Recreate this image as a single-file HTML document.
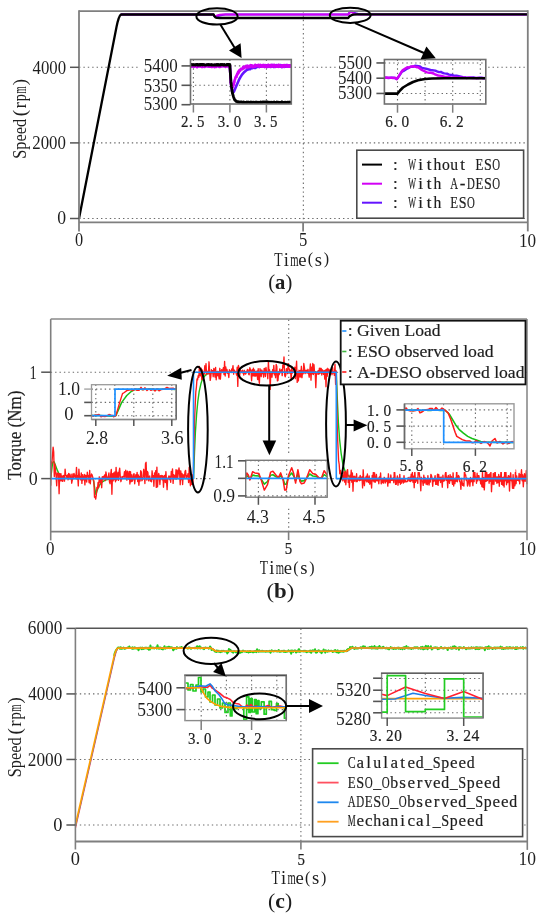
<!DOCTYPE html>
<html><head><meta charset="utf-8"><title>Speed and torque responses</title>
<style>html,body{margin:0;padding:0;background:#fff;}svg{display:block;}text.b{stroke:#1e1e1e;stroke-width:0.2px;}</style></head>
<body>
<svg width="550" height="918" viewBox="0 0 550 918">
<rect x="0" y="0" width="550" height="918" fill="#fff"/>
<line x1="79" y1="67.3" x2="527.8" y2="67.3" stroke="#6a6a6a" stroke-width="1.1" stroke-dasharray="1.4 3"/>
<line x1="79" y1="142.9" x2="527.8" y2="142.9" stroke="#6a6a6a" stroke-width="1.1" stroke-dasharray="1.4 3"/>
<line x1="79" y1="218.5" x2="527.8" y2="218.5" stroke="#6a6a6a" stroke-width="1.1" stroke-dasharray="1.4 3"/>
<line x1="303.35" y1="11" x2="303.35" y2="222" stroke="#6a6a6a" stroke-width="1.1" stroke-dasharray="1.4 3"/>
<polyline points="120.7,14.8 121.6,14.4 213.6,14.4 214.5,16.4 215,16.8 215.6,16.9 219.7,15.6 222.1,15 225.5,14.6 230.4,14.5 348.2,14.4 349.8,12 350.5,11.5 351.1,11.4 352,11.5 355.4,13.1 357.6,13.8 360.6,14.2 364.6,14.3 527.7,14.4" fill="none" stroke="#6414ff" stroke-width="2" stroke-linejoin="round"/>
<polyline points="120.7,14.8 121.6,14.4 213.6,14.4 214.3,16.1 215,16.4 217.9,15.3 219.7,14.8 222.4,14.5 226.2,14.4 348,14.4 348.2,14.7 348.9,13.9 350,11.9 350.7,11.5 351.4,11.7 353.2,13.2 354.5,13.9 356.1,14.2 358.5,14.4 527.7,14.4" fill="none" stroke="#d200f5" stroke-width="2" stroke-linejoin="round"/>
<polyline points="79,218.5 116.5,27 117.6,22.1 118.7,18.4 119.8,15.9 120.5,15 121.2,14.5 213.6,14.4 214.3,16 215.4,17.3 217,17.9 219.7,18 348.2,18 349.6,16.3 351.4,15.2 353.6,14.6 357.2,14.4 527.7,14.4" fill="none" stroke="#000" stroke-width="2.3" stroke-linejoin="round"/>
<line x1="79" y1="11.1" x2="527.8" y2="11.1" stroke="#7f7f7f" stroke-width="1.8"/>
<line x1="79" y1="222.4" x2="527.8" y2="222.4" stroke="#7f7f7f" stroke-width="1.8"/>
<line x1="79" y1="10.2" x2="79" y2="231.4" stroke="#7f7f7f" stroke-width="1.8"/>
<line x1="527.8" y1="10.2" x2="527.8" y2="231.4" stroke="#7f7f7f" stroke-width="1.8"/>
<line x1="303.1" y1="222.4" x2="303.1" y2="231.6" stroke="#7f7f7f" stroke-width="1.8"/>
<line x1="70" y1="218.5" x2="79" y2="218.5" stroke="#555" stroke-width="1.5"/>
<line x1="70" y1="142.9" x2="79" y2="142.9" stroke="#555" stroke-width="1.5"/>
<line x1="70" y1="67.3" x2="79" y2="67.3" stroke="#555" stroke-width="1.5"/>
<rect x="140" y="56" width="152.5" height="73" fill="#fff" stroke="#fff" stroke-width="0"/>
<rect x="190.5" y="59.5" width="100.8" height="44.5" fill="#fff" stroke="#fff" stroke-width="0"/>
<clipPath id="cal"><rect x="190.5" y="59.5" width="100.8" height="44.5"/></clipPath>
<line x1="193.4" y1="59.5" x2="193.4" y2="104" stroke="#6a6a6a" stroke-width="1.1" stroke-dasharray="1.4 3"/>
<line x1="229.9" y1="59.5" x2="229.9" y2="104" stroke="#6a6a6a" stroke-width="1.1" stroke-dasharray="1.4 3"/>
<line x1="266.4" y1="59.5" x2="266.4" y2="104" stroke="#6a6a6a" stroke-width="1.1" stroke-dasharray="1.4 3"/>
<line x1="190.5" y1="85.3" x2="291.3" y2="85.3" stroke="#6a6a6a" stroke-width="1.1" stroke-dasharray="1.4 3"/>
<line x1="190.5" y1="65.9" x2="291.3" y2="65.9" stroke="#6a6a6a" stroke-width="1.1" stroke-dasharray="1.4 3"/>
<g clip-path="url(#cal)">
<polyline points="189.8,65.9 229.8,65.9 231.2,85.9 232.1,90.8 232.4,91.6 233,92.2 233.6,92 234.4,90.6 238.8,80.2 240.3,77.4 242,74.6 244.4,71.9 246.7,70 248.2,69.2 248.4,69.5 248.7,68.8 249,69 249.3,68.4 249.6,68.2 249.9,69.2 250.2,69.2 250.5,67.5 250.8,68.5 251.1,68.5 251.4,66.9 251.7,67.8 251.9,67 252.2,67.6 252.5,67.2 252.8,68.1 253.4,66.6 253.7,67.2 254,66.7 254.3,66.8 254.6,67.9 254.9,66.5 255.7,67.8 256,66.1 256.3,66.8 256.9,66 257.2,66.2 257.5,65.8 257.8,66.8 258.1,66 258.4,66.6 258.7,65.7 259,65.7 259.2,67.2 259.8,66.9 260.1,65.5 260.4,66.5 260.7,66.1 261,66.7 261.3,66.3 261.9,66.5 262.2,66.1 262.5,66.1 262.8,65.4 263,65.8 263.3,65.4 263.6,65.5 263.9,65.2 264.5,66.8 264.8,65.4 265.1,65.2 265.4,65.3 265.7,66 266,65.7 266.3,66.6 266.5,65.4 267.4,66.9 267.7,65.4 268,65.1 268.3,66.8 268.6,65.4 269.2,66.7 269.5,66.4 269.8,65.5 270.1,65.3 270.3,66.9 270.6,65.8 270.9,66.9 271.2,65.6 271.5,66.3 271.8,65.2 272.1,65 272.4,66 272.7,65 273,66.3 273.3,66.8 273.6,65.8 273.8,66.9 274.7,65.7 275,66.6 275.3,66.8 275.6,65.2 275.9,66.3 276.2,65 276.5,65.2 276.8,66.2 277.6,65.6 278.2,65.8 278.5,65.7 278.8,65.1 279.1,65.9 279.4,66.1 279.7,65.5 280,66.4 280.3,66.3 280.6,65 280.9,65.9 281.1,65.8 281.4,66.9 282,65.8 282.3,66.8 282.6,65.7 282.9,65.7 283.2,66.8 283.5,65.7 283.8,66 284.1,65.6 284.4,66.2 284.6,65.5 284.9,65.4 285.2,66.8 285.5,66.8 286.1,65 286.4,66.4 287,65.7 287.3,66.3 287.9,66.3 288.2,66.2 288.4,65.7 288.7,66.3 289,66.1 289.3,65.4 289.6,66.8 289.9,65.8 290.2,65.4 290.5,66.3 290.8,66.4 291.1,65.3 291.4,66.4 291.7,66.5 292.2,65.5 292.5,66.7 292.8,66.2 293.1,66.2 293.4,65.3 293.7,66 294,65.2 294.3,66.5 294.6,66.2" fill="none" stroke="#6414ff" stroke-width="2.6" stroke-linejoin="round"/>
<polyline points="189.8,65.6 190,65 190.3,66 190.9,66.8 191.2,65.8 191.5,66.6 191.8,65.2 192.1,65.1 192.4,66.6 192.7,66.4 193,65.2 193.3,65.6 193.5,65.2 194.1,66.8 194.4,66.4 194.7,65.2 195,66.4 195.6,66.1 196.2,66.1 196.5,64.9 196.8,66.7 197.1,67.1 197.3,64.9 197.6,65 197.9,64.8 198.2,66.1 198.5,64.9 198.8,64.9 199.1,66.5 199.4,65.3 199.7,65.1 200.6,66.4 200.8,66.3 201.4,66.9 201.7,65.7 202,66.4 202.3,65.2 202.6,67 202.9,65 203.2,65.4 203.5,64.9 204.1,65 204.6,67 204.9,65.3 205.2,66.7 205.5,66.4 205.8,65.5 206.4,66.1 206.7,64.9 207.3,66.3 207.6,66.5 207.9,65.1 208.1,66 208.4,65.2 208.7,66.2 209,66.6 209.6,65.2 209.9,66.7 210.2,65.2 210.5,64.9 210.8,65.2 211.1,65.1 211.4,67 211.7,65.6 211.9,65.1 212.2,66.9 212.5,66.4 212.8,66.4 213.1,65.8 213.4,66.1 213.7,66 214,65.3 214.3,67.1 214.9,66.8 215.4,66.9 215.7,64.8 216,65.1 216.3,66.9 216.6,65.9 216.9,66.3 217.2,66.3 217.5,66.2 217.8,65.6 218.1,65.7 218.7,66.6 219,66.3 219.2,66.8 219.5,65.8 219.8,65.4 220.4,66.9 221.6,65.2 221.9,66.2 222.2,65.2 222.7,66.1 223,66.2 223.6,65.4 223.9,66.1 224.2,65.4 224.8,66.5 225.4,65.4 225.7,66.9 226,66.1 226.3,66.1 226.5,65 226.8,64.9 227.1,66.2 227.4,65 227.7,65.2 228,66.5 228.3,66 228.6,66.8 228.9,65.2 229.2,65.5 229.5,65 229.8,65.2 230.9,83.8 231.2,84.6 231.5,87.2 231.8,87.5 232.1,86.2 232.4,87.7 233,86.6 233.3,84.1 233.6,84.9 233.8,84.4 234.1,81.6 234.4,82.4 234.7,79.9 235,79.4 235.6,77.1 235.9,77.2 236.2,76 236.5,77.1 236.8,74.7 237.1,74.7 237.3,73.6 237.6,74.5 238.2,71.5 238.5,73.1 239.4,70.1 239.7,71.2 240.3,70.5 240.9,68.8 241.1,69.4 242.3,68.5 242.6,69.1 243.2,66.8 243.5,67.9 243.8,67 244.1,68.3 244.4,66.9 244.6,66.7 245.5,67 246.1,65.9 246.4,67.6 246.7,67.7 247,66.1 247.3,65.6 247.6,66.5 247.9,66.6 248.2,66 248.4,67.2 248.7,66.9 249,67.1 249.3,66.1 249.6,66.7 249.9,66.9 250.5,65.2 250.8,66.7 251.1,65.7 251.4,66.4 251.7,65.3 252.2,66.6 252.5,66.7 252.8,67.2 253.1,66.1 253.7,66.8 254,66.4 254.3,66.4 254.6,65.4 254.9,66.8 255.2,64.9 255.5,66 255.7,65.8 256,66.1 256.3,65.2 256.6,65.2 256.9,65.8 257.2,66 257.8,65.1 258.1,66.2 258.7,64.9 259.2,66.6 259.5,66.6 259.8,65.4 260.1,65.5 260.4,64.9 260.7,65.1 261,66.5 261.3,66.6 261.6,66.5 261.9,66.6 262.2,65.4 262.8,65 263,66.5 263.3,65.1 263.6,66.3 264.2,65.4 264.5,66.9 264.8,66.9 265.1,65.1 265.4,66.4 266.3,65.5 266.5,67.1 266.8,66.3 267.1,66.1 267.4,65.9 267.7,66.6 268.3,64.8 268.6,66.2 268.9,65.8 269.2,66.8 269.8,65.5 270.1,66.8 270.3,65 270.6,65 270.9,66.8 271.2,64.9 271.5,66.2 271.8,65.3 272.1,65.3 272.4,66.4 272.7,65.5 273,65.5 273.3,65.2 273.6,66.4 274.1,64.8 274.7,65.8 275,66.8 275.3,65.9 275.6,66.2 275.9,65.4 276.5,65.7 276.8,66.6 277.1,65.6 277.4,65.6 277.6,66.6 277.9,65 278.5,66.8 278.8,64.9 279.1,66.7 279.7,65.4 280.3,65.8 280.6,65.6 281.7,66.9 282,65.4 282.3,65.3 282.6,65.8 282.9,65.3 283.2,66.2 283.5,66.4 283.8,66.2 284.1,65 284.4,67 284.6,65.9 284.9,66.5 285.2,65.3 285.5,66.2 285.8,66.3 286.4,65.8 286.7,65.3 287,66.2 287.3,65.1 287.6,66.8 287.9,66.4 288.2,66.8 288.4,66.8 288.7,65.3 289,65.4 289.3,66.6 289.6,66.6 290.2,65.3 290.5,65.2 290.8,65.3 291.1,65.7 291.4,66.7 291.7,66.1 292,66.6 292.2,65.8 292.5,65.7 292.8,66.6 293.1,66.5 293.4,65.2 293.7,67 294,65.2 294.6,64.9" fill="none" stroke="#d200f5" stroke-width="2.6" stroke-linejoin="round"/>
<polyline points="189.8,64.8 190.6,64.6 190.9,64.4 191.5,64.9 191.8,64.5 192.1,64.7 192.7,64.6 193,65.1 193.3,64.5 194.7,65 195,64.7 195.3,65.1 195.6,64.7 195.9,64.6 196.2,64.8 196.8,64.4 197.1,64.4 197.3,65 197.6,64.5 198.2,65.1 198.5,64.8 199.1,65.1 199.7,64.4 200,64.9 200.3,64.4 200.8,65 201.1,64.5 201.4,64.7 201.7,64.4 202.3,64.5 202.6,64.9 203.2,64.4 203.8,64.8 204.1,64.5 204.9,65.1 205.8,65 206.4,64.6 207,64.8 207.3,64.6 207.6,64.9 208.1,64.5 208.7,65 209,64.4 209.6,64.8 210.5,64.7 211.1,65.1 211.7,64.5 211.9,65 212.2,64.8 212.5,65 213.1,65 213.4,64.8 214,65.1 214.6,65 214.9,64.7 215.2,65.1 215.4,65.1 215.7,64.8 216,64.8 216.3,64.6 216.6,65.1 216.9,64.8 217.2,64.8 217.5,65.1 217.8,64.4 218.1,65 218.4,65.1 218.7,64.8 219,65 219.2,64.6 220.1,65.1 220.4,64.6 220.7,64.9 221,64.5 221.3,64.8 221.6,64.4 221.9,64.9 222.5,64.9 222.7,64.5 223.6,65.1 224.2,64.4 224.8,65.1 226.3,65.1 226.8,64.4 227.1,65 227.4,64.4 227.7,64.8 228,64.5 228.6,64.4 228.9,65.1 229.8,64.4 230.9,81.2 231.5,86.9 232.4,93 233.6,97.2 234.7,99.9 235,99.9 235.9,101.2 236.2,101 237.6,102.1 237.9,101.7 238.2,102.3 238.8,101.9 239.1,102 239.4,102.5 239.7,102.4 240,102 240.3,102.1 240.9,102 241.1,102.3 241.4,102 242.6,102.7 243.2,102 243.5,102.7 243.8,102.3 244.1,102.7 244.4,102.7 244.6,102.2 245.2,102.7 245.8,102.3 246.1,102.3 246.4,102.7 246.7,102.6 247,102 247.3,102.6 247.6,102.3 247.9,102.4 248.2,102.2 248.4,102.3 248.7,102.1 249.3,102.6 249.9,102.7 250.2,102.1 250.5,102.7 250.8,102.7 251.1,102 251.4,102.6 251.7,102.1 251.9,102.7 252.2,102.4 252.5,102.6 252.8,102.1 253.1,102.3 254,102.1 254.3,102.5 254.6,102.3 255.2,102.7 255.5,102.1 255.7,102.3 256,102.1 256.3,102.6 257.2,102.2 257.5,102.7 258.1,102.4 258.4,102.7 259,102.2 259.2,102.4 259.8,102.3 260.1,102.6 260.4,102.5 260.7,102 261,102.5 261.3,102.4 261.6,102.7 262.2,102.6 262.5,102 262.8,102.2 263.3,102 263.6,102.3 263.9,102 264.5,102.4 264.8,102 265.4,102 265.7,102.4 266,102.2 266.3,102.4 266.5,102 266.8,102 267.1,102.5 267.4,102 267.7,102.6 268,102.7 268.3,102.2 268.6,102.5 269.2,102.3 269.5,102.7 269.8,102.2 270.1,102.5 270.6,102.5 270.9,102.2 271.2,102.2 271.8,102.7 272.4,102.4 272.7,102.7 273,102.6 273.3,102.2 274.1,102 275,102.6 275.9,102.4 276.5,102.5 276.8,102.1 277.1,102.5 277.6,102.1 278.5,102.6 278.8,102.1 279.1,102.8 279.7,102.3 280.6,102.7 281.1,102.2 281.4,102.4 281.7,102 282,102.2 282.3,102 282.6,102.7 282.9,102.6 283.2,102.7 283.5,102.4 284.1,102.7 284.4,102.3 284.6,102.7 285.2,102.6 285.5,102.1 286.4,102.7 287.6,102.1 288.4,102.7 288.7,102.2 289.3,102.4 289.6,102.1 290.8,102.7 291.4,102.1 291.7,102.1 292,102.4 292.5,102 293.4,102.4 293.7,102.4 294,102.6 294.3,102.6 294.6,102.2" fill="none" stroke="#000" stroke-width="2.8" stroke-linejoin="round"/>
</g>
<rect x="190.5" y="59.5" width="100.8" height="44.5" fill="none" stroke="#6f6f6f" stroke-width="1.6"/>
<line x1="181.5" y1="65.9" x2="190.5" y2="65.9" stroke="#555" stroke-width="1.6"/>
<line x1="181.5" y1="85.3" x2="190.5" y2="85.3" stroke="#555" stroke-width="1.6"/>
<line x1="181.5" y1="104.7" x2="190.5" y2="104.7" stroke="#555" stroke-width="1.6"/>
<line x1="193.4" y1="104" x2="193.4" y2="112.5" stroke="#7f7f7f" stroke-width="1.5"/>
<line x1="229.9" y1="104" x2="229.9" y2="112.5" stroke="#7f7f7f" stroke-width="1.5"/>
<line x1="266.4" y1="104" x2="266.4" y2="112.5" stroke="#7f7f7f" stroke-width="1.5"/>
<text x="143.71" y="72.2" font-family='"Liberation Serif", "Noto Serif CJK SC", serif' font-size="18.3" fill="#1e1e1e" textLength="33.93" lengthAdjust="spacingAndGlyphs">5400</text>
<text x="143.72" y="91.5" font-family='"Liberation Serif", "Noto Serif CJK SC", serif' font-size="18.3" fill="#1e1e1e" textLength="33.72" lengthAdjust="spacingAndGlyphs">5350</text>
<text x="143.72" y="109.6" font-family='"Liberation Serif", "Noto Serif CJK SC", serif' font-size="18.3" fill="#1e1e1e" textLength="33.72" lengthAdjust="spacingAndGlyphs">5300</text>
<text class="b" transform="translate(0,126.5)" y="0" text-anchor="middle" font-family='"Liberation Serif", "Noto Serif CJK SC", serif' font-size="17" fill="#1e1e1e" xml:space="preserve"><tspan x="184.6" textLength="7.44" lengthAdjust="spacingAndGlyphs">2</tspan><tspan x="190.9">.</tspan><tspan x="200.6" textLength="7.44" lengthAdjust="spacingAndGlyphs">5</tspan></text>
<text class="b" transform="translate(0,126.5)" y="0" text-anchor="middle" font-family='"Liberation Serif", "Noto Serif CJK SC", serif' font-size="17" fill="#1e1e1e" xml:space="preserve"><tspan x="221.4" textLength="7.44" lengthAdjust="spacingAndGlyphs">3</tspan><tspan x="227.7">.</tspan><tspan x="237.4" textLength="7.44" lengthAdjust="spacingAndGlyphs">0</tspan></text>
<text class="b" transform="translate(0,126.5)" y="0" text-anchor="middle" font-family='"Liberation Serif", "Noto Serif CJK SC", serif' font-size="17" fill="#1e1e1e" xml:space="preserve"><tspan x="257.8" textLength="7.44" lengthAdjust="spacingAndGlyphs">3</tspan><tspan x="264.1">.</tspan><tspan x="273.8" textLength="7.44" lengthAdjust="spacingAndGlyphs">5</tspan></text>
<rect x="336" y="55" width="151" height="74" fill="#fff" stroke="#fff" stroke-width="0"/>
<rect x="384.4" y="59.5" width="101.4" height="44.5" fill="#fff" stroke="#fff" stroke-width="0"/>
<clipPath id="car"><rect x="384.4" y="59.5" width="101.4" height="44.5"/></clipPath>
<line x1="397.5" y1="59.5" x2="397.5" y2="104" stroke="#6a6a6a" stroke-width="1.1" stroke-dasharray="1.4 3"/>
<line x1="425.1" y1="59.5" x2="425.1" y2="104" stroke="#6a6a6a" stroke-width="1.1" stroke-dasharray="1.4 3"/>
<line x1="452.7" y1="59.5" x2="452.7" y2="104" stroke="#6a6a6a" stroke-width="1.1" stroke-dasharray="1.4 3"/>
<line x1="480.3" y1="59.5" x2="480.3" y2="104" stroke="#6a6a6a" stroke-width="1.1" stroke-dasharray="1.4 3"/>
<line x1="384.4" y1="62.95" x2="485.8" y2="62.95" stroke="#6a6a6a" stroke-width="1.1" stroke-dasharray="1.4 3"/>
<line x1="384.4" y1="78.2" x2="485.8" y2="78.2" stroke="#6a6a6a" stroke-width="1.1" stroke-dasharray="1.4 3"/>
<line x1="384.4" y1="93.45" x2="485.8" y2="93.45" stroke="#6a6a6a" stroke-width="1.1" stroke-dasharray="1.4 3"/>
<g clip-path="url(#car)">
<polyline points="384.1,77.6 388.8,78 390.3,77.6 393.4,77.7 396.8,78.8 399,76.2 402,71.7 403.5,71 406.5,68.9 408,68.3 409.8,67.2 411.5,66.6 413.2,66.7 415,65.7 416.7,65.9 420,66.5 422.1,67.9 425.8,68.6 430.5,70 435.3,70.6 437,71.4 438.9,72.1 440.9,71.9 442.8,73 444.3,73.4 447.4,73.8 449,74.6 450.5,74.9 452.1,74.9 453.6,75.6 456.7,75.7 462.9,77.1 465.9,77.5 468.9,77.7 473.5,77.5 475,77.9 478.1,78 479.7,77.6 481.3,77.7 482.9,78.2 486,78" fill="none" stroke="#6414ff" stroke-width="2.4" stroke-linejoin="round"/>
<polyline points="384.1,77.9 386.1,77.5 390,77.9 391.7,77.8 393.3,78.1 395,77.7 396.8,79.3 400.8,72.8 402.6,70.3 405.7,68.2 407.3,67.3 408.9,67.6 410.4,66.7 413.5,66.3 416.6,67.2 418.1,67.3 421.2,69.6 427,72.3 428.7,72.7 430.3,72.6 432,73 433.6,73.5 435.1,74.4 438.2,75.5 441.3,75.9 445.1,77 448.6,76.8 450.3,77.2 456.9,77.4 458.5,77.9 460.2,77.4 461.8,77.8 463.4,77.6 465.1,77.6 466.7,78.1 468.4,77.7 470,77.7 473.2,78.1 474.8,77.9 476.4,78.2 478,77.9 481.2,78.1 482.8,78 484.4,78.1 486,78" fill="none" stroke="#d200f5" stroke-width="2.4" stroke-linejoin="round"/>
<polyline points="384.4,93.6 397.5,93.6 400,90.5 403,87.5 408,84.5 413,82 418,80.3 425,79 432,78.5 445,78.2 486,78.2" fill="none" stroke="#000" stroke-width="2.6" stroke-linejoin="round"/>
</g>
<rect x="384.4" y="59.5" width="101.4" height="44.5" fill="none" stroke="#6f6f6f" stroke-width="1.6"/>
<line x1="376.4" y1="62.95" x2="384.4" y2="62.95" stroke="#555" stroke-width="1.6"/>
<line x1="376.4" y1="78.2" x2="384.4" y2="78.2" stroke="#555" stroke-width="1.6"/>
<line x1="376.4" y1="93.45" x2="384.4" y2="93.45" stroke="#555" stroke-width="1.6"/>
<line x1="397.5" y1="104" x2="397.5" y2="112.7" stroke="#7f7f7f" stroke-width="1.5"/>
<line x1="452.7" y1="104" x2="452.7" y2="112.7" stroke="#7f7f7f" stroke-width="1.5"/>
<text x="338.01" y="68.8" font-family='"Liberation Serif", "Noto Serif CJK SC", serif' font-size="18.3" fill="#1e1e1e" textLength="34.04" lengthAdjust="spacingAndGlyphs">5500</text>
<text x="338.01" y="84.1" font-family='"Liberation Serif", "Noto Serif CJK SC", serif' font-size="18.3" fill="#1e1e1e" textLength="34.04" lengthAdjust="spacingAndGlyphs">5400</text>
<text x="338.01" y="99.4" font-family='"Liberation Serif", "Noto Serif CJK SC", serif' font-size="18.3" fill="#1e1e1e" textLength="34.04" lengthAdjust="spacingAndGlyphs">5300</text>
<text class="b" transform="translate(0,126.5)" y="0" text-anchor="middle" font-family='"Liberation Serif", "Noto Serif CJK SC", serif' font-size="17" fill="#1e1e1e" xml:space="preserve"><tspan x="389" textLength="7.63" lengthAdjust="spacingAndGlyphs">6</tspan><tspan x="395.4">.</tspan><tspan x="405.4" textLength="7.63" lengthAdjust="spacingAndGlyphs">0</tspan></text>
<text class="b" transform="translate(0,126.5)" y="0" text-anchor="middle" font-family='"Liberation Serif", "Noto Serif CJK SC", serif' font-size="17" fill="#1e1e1e" xml:space="preserve"><tspan x="443.5" textLength="7.63" lengthAdjust="spacingAndGlyphs">6</tspan><tspan x="449.9">.</tspan><tspan x="459.9" textLength="7.63" lengthAdjust="spacingAndGlyphs">2</tspan></text>
<ellipse cx="217" cy="16.4" rx="20.6" ry="8.2" fill="none" stroke="#000" stroke-width="2"/>
<ellipse cx="350.2" cy="15.3" rx="20.4" ry="7.6" fill="none" stroke="#000" stroke-width="2"/>
<line x1="220.5" y1="24.8" x2="236" y2="50" stroke="#000" stroke-width="2"/>
<polygon points="229,50.6 240.6,43.2 241.6,58" fill="#000"/>
<line x1="355" y1="23.2" x2="424" y2="53" stroke="#000" stroke-width="2"/>
<polygon points="426.4,46.6 435.8,58.2 420.6,59.2" fill="#000"/>
<rect x="356.8" y="150.2" width="166.8" height="68" fill="#fff" stroke="#4a4a4a" stroke-width="1.6"/>
<line x1="362" y1="164.6" x2="382" y2="164.6" stroke="#000" stroke-width="2"/>
<line x1="362" y1="183.7" x2="382" y2="183.7" stroke="#d200f5" stroke-width="2"/>
<line x1="362" y1="202.7" x2="382" y2="202.7" stroke="#6414ff" stroke-width="2"/>
<text class="b" transform="translate(0,169.6)" y="0" text-anchor="middle" font-family='"Liberation Serif", "Noto Serif CJK SC", serif' font-size="17" fill="#1e1e1e" xml:space="preserve"><tspan x="395.4">:</tspan><tspan x="403.8"> </tspan><tspan x="412.2" textLength="7.81" lengthAdjust="spacingAndGlyphs">W</tspan><tspan x="420.6">i</tspan><tspan x="429">t</tspan><tspan x="437.4" textLength="7.81" lengthAdjust="spacingAndGlyphs">h</tspan><tspan x="445.8" textLength="7.81" lengthAdjust="spacingAndGlyphs">o</tspan><tspan x="454.2" textLength="7.81" lengthAdjust="spacingAndGlyphs">u</tspan><tspan x="462.6">t</tspan><tspan x="471"> </tspan><tspan x="479.4" textLength="7.81" lengthAdjust="spacingAndGlyphs">E</tspan><tspan x="487.8" textLength="7.81" lengthAdjust="spacingAndGlyphs">S</tspan><tspan x="496.2" textLength="7.81" lengthAdjust="spacingAndGlyphs">O</tspan></text>
<text class="b" transform="translate(0,189)" y="0" text-anchor="middle" font-family='"Liberation Serif", "Noto Serif CJK SC", serif' font-size="17" fill="#1e1e1e" xml:space="preserve"><tspan x="395.4">:</tspan><tspan x="403.8"> </tspan><tspan x="412.2" textLength="7.81" lengthAdjust="spacingAndGlyphs">W</tspan><tspan x="420.6">i</tspan><tspan x="429">t</tspan><tspan x="437.4" textLength="7.81" lengthAdjust="spacingAndGlyphs">h</tspan><tspan x="445.8"> </tspan><tspan x="454.2" textLength="7.81" lengthAdjust="spacingAndGlyphs">A</tspan><tspan x="462.6">-</tspan><tspan x="471" textLength="7.81" lengthAdjust="spacingAndGlyphs">D</tspan><tspan x="479.4" textLength="7.81" lengthAdjust="spacingAndGlyphs">E</tspan><tspan x="487.8" textLength="7.81" lengthAdjust="spacingAndGlyphs">S</tspan><tspan x="496.2" textLength="7.81" lengthAdjust="spacingAndGlyphs">O</tspan></text>
<text class="b" transform="translate(0,207.9)" y="0" text-anchor="middle" font-family='"Liberation Serif", "Noto Serif CJK SC", serif' font-size="17" fill="#1e1e1e" xml:space="preserve"><tspan x="395.4">:</tspan><tspan x="403.8"> </tspan><tspan x="412.2" textLength="7.81" lengthAdjust="spacingAndGlyphs">W</tspan><tspan x="420.6">i</tspan><tspan x="429">t</tspan><tspan x="437.4" textLength="7.81" lengthAdjust="spacingAndGlyphs">h</tspan><tspan x="445.8"> </tspan><tspan x="454.2" textLength="7.81" lengthAdjust="spacingAndGlyphs">E</tspan><tspan x="462.6" textLength="7.81" lengthAdjust="spacingAndGlyphs">S</tspan><tspan x="471" textLength="7.81" lengthAdjust="spacingAndGlyphs">O</tspan></text>
<text x="32.57" y="73.5" font-family='"Liberation Serif", "Noto Serif CJK SC", serif' font-size="18.3" fill="#1e1e1e" textLength="33.57" lengthAdjust="spacingAndGlyphs">4000</text>
<text x="32.26" y="149" font-family='"Liberation Serif", "Noto Serif CJK SC", serif' font-size="18.3" fill="#1e1e1e" textLength="33.68" lengthAdjust="spacingAndGlyphs">2000</text>
<text x="57.33" y="224" font-family='"Liberation Serif", "Noto Serif CJK SC", serif' font-size="18.3" fill="#1e1e1e" textLength="8.85" lengthAdjust="spacingAndGlyphs">0</text>
<text x="74.88" y="246" font-family='"Liberation Serif", "Noto Serif CJK SC", serif' font-size="18.3" fill="#1e1e1e" textLength="8.14" lengthAdjust="spacingAndGlyphs">0</text>
<text x="298.93" y="246.3" font-family='"Liberation Serif", "Noto Serif CJK SC", serif' font-size="18.3" fill="#1e1e1e" textLength="8.32" lengthAdjust="spacingAndGlyphs">5</text>
<text x="518.99" y="246.7" font-family='"Liberation Serif", "Noto Serif CJK SC", serif' font-size="18.3" fill="#1e1e1e" textLength="17.16" lengthAdjust="spacingAndGlyphs">10</text>
<text transform="translate(0,265.5)" y="0" text-anchor="middle" font-family='"Liberation Serif", "Noto Serif CJK SC", serif' font-size="18.6" fill="#1e1e1e" xml:space="preserve"><tspan x="278.3" y="0" textLength="8.3" lengthAdjust="spacingAndGlyphs">T</tspan><tspan x="286.3" y="0">i</tspan><tspan x="294.3" y="0" textLength="8.3" lengthAdjust="spacingAndGlyphs">m</tspan><tspan x="302.3" y="0">e</tspan><tspan x="310.3" y="-1.6" font-size="16">(</tspan><tspan x="318.3" y="0">s</tspan><tspan x="326.3" y="-1.6" font-size="16">)</tspan></text>
<text x="268.2" y="289.4" font-family='"Liberation Serif", "Noto Serif CJK SC", serif' font-size="21.5" fill="#1e1e1e" textLength="24.1" lengthAdjust="spacingAndGlyphs">(<tspan font-weight="bold">a</tspan>)</text>
<text transform="translate(25.9,158.8) rotate(-90)" y="0" text-anchor="middle" font-family='"Liberation Serif", "Noto Serif CJK SC", serif' font-size="19.2" fill="#1e1e1e"><tspan x="20" textLength="40" lengthAdjust="spacingAndGlyphs">Speed</tspan><tspan x="45.85">(</tspan><tspan x="53.55">r</tspan><tspan x="61.25" textLength="7.16" lengthAdjust="spacingAndGlyphs">p</tspan><tspan x="68.95" textLength="7.16" lengthAdjust="spacingAndGlyphs">m</tspan><tspan x="76.65">)</tspan></text>
<line x1="50.7" y1="372.2" x2="527" y2="372.2" stroke="#6a6a6a" stroke-width="1.1" stroke-dasharray="1.4 3"/>
<line x1="50.7" y1="478.6" x2="527" y2="478.6" stroke="#6a6a6a" stroke-width="1.1" stroke-dasharray="1.4 3"/>
<line x1="288.7" y1="319.5" x2="288.7" y2="531.5" stroke="#6a6a6a" stroke-width="1.1" stroke-dasharray="1.4 3"/>
<polyline points="50.7,478.6 52.4,464.4 52.8,462.5 53.1,462 53.6,461.6 54,461.9 54.5,462.7 57.4,470.4 59,473.8 60.9,476.2 63.1,477.6 65.7,478.3 69.3,478.5 93.1,478.6 95.9,494.6 96.9,491.2 98.1,488 99.3,485.6 100.7,483.5 102.3,481.9 104,480.8 106.2,479.9 108.8,479.3 113.5,478.8 121.1,478.6 193.5,478.6 194.5,452.2 195.4,432.3 196.6,414.2 197.8,401.6 199.2,391.4 200.9,383.8 201.8,380.9 202.8,378.8 204,376.8 205.4,375.2 207.3,373.9 209.7,373 212.5,372.6 216.8,372.3 310.4,372.2 336.3,372.2 337.3,398.6 338.4,422.7 339.6,439.5 341.1,453.1 342.7,463.1 343.7,467 344.6,469.9 345.8,472.5 347,474.3 348.4,475.8 350.1,476.9 352.2,477.7 354.9,478.2 363.4,478.6 526.7,478.6" fill="none" stroke="#18c018" stroke-width="1.4" stroke-linejoin="round"/>
<polyline points="50.7,485.7 51.3,462.1 51.9,463.2 53.1,447.2 53.7,452 54.3,476.6 54.9,464.2 56.1,476.1 56.7,485.8 57.3,472.9 57.9,474.5 58.5,473.3 59.1,493.7 59.7,473.7 60.3,480.9 60.9,473.6 61.5,480.8 62.1,476.1 62.7,481.4 63.3,475.5 63.9,476.1 64.5,481.1 65.1,469.1 65.7,475.4 66.3,475.4 66.9,478.2 67.5,475 68.1,479.8 68.7,473.4 69.3,474.2 69.9,478.5 70.5,478.7 71.1,474.1 71.7,483.2 72.3,480.2 72.9,474 73.5,477.6 74.1,473.5 74.7,477 75.3,475.1 75.9,478.5 76.5,467.4 77.1,479.1 77.7,475.7 78.3,485.9 78.9,469.1 79.5,477.5 80.1,476.5 80.7,479.9 81.3,473 81.9,483.4 82.5,474.7 83.1,480.1 83.7,478.7 84.3,474.5 84.9,484.9 85.5,475.3 86.1,475.6 86.7,482 87.3,472.2 87.9,476.7 88.5,475.6 89.1,482.6 89.7,470.5 90.3,483.8 90.9,477.5 91.5,474 92.1,474.9 93.9,481.5 94.5,497.2 95.1,496.8 95.7,499.1 96.3,495.2 96.9,487.4 97.5,488.8 98.1,482.4 98.7,487.5 99.3,476.8 99.9,480.9 100.5,482.9 101.1,478.3 101.7,487.7 102.3,476.7 102.9,479.9 103.5,476.3 104.1,478.5 104.7,474.9 105.3,480.6 105.9,471.9 107.1,479.4 107.7,477.1 108.3,477.4 108.9,472.9 109.5,482.1 110.1,483.8 110.7,474.4 111.3,469.4 111.9,494.3 112.5,473.6 113.1,480.9 113.7,473 114.3,479.5 114.9,472 115.5,481.8 116.1,467.4 116.7,480 117.9,472.3 118.5,480.4 119.1,471.8 119.7,468.2 120.3,476.8 120.9,481.7 122.1,476.4 122.7,477.8 123.3,476.5 123.9,476.9 124.5,471.7 125.1,478 125.7,470.2 126.3,472.7 126.9,480.2 127.5,471.2 128.7,479.1 129.3,471.4 129.9,484 130.5,471.6 131.1,481.7 131.7,474.8 132.3,481.2 132.9,479.8 133.5,474.1 134.1,473.8 134.7,483.8 135.3,477.8 135.9,474.7 136.5,478.4 137.1,472.4 137.7,481.5 138.3,474.9 138.9,485.3 139.5,476.4 140.1,481 140.7,470.7 141.3,471.9 141.9,480.8 142.5,479.6 143.1,476.9 143.7,469.3 144.3,474.2 144.9,483.5 145.5,463.5 146.1,462.3 146.7,480 147.3,471.4 147.9,472.5 148.5,480.8 149.1,477.8 149.7,475.9 150.3,481.1 150.9,479.7 151.5,481.7 152.1,470.8 152.7,479 153.3,475.6 153.9,486.3 154.5,473 155.1,478.1 155.7,470.6 156.3,487.4 156.9,467.1 157.5,486.9 158.1,477.4 158.7,473.5 159.3,476.2 159.9,484.5 160.5,475.6 161.1,477.1 161.7,475.4 162.3,479.9 162.9,475.8 163.5,487.2 164.1,476.5 164.7,475.4 165.3,482.5 165.9,471.6 167.1,489.6 167.7,478.1 168.3,478.3 168.9,475.9 169.5,479.6 170.1,476.3 170.7,482.3 171.3,471.4 171.9,477.1 172.5,468.9 173.1,483.4 173.7,474.6 174.3,477.9 174.9,475.5 175.5,478.9 176,469.7 176.6,479 177.2,470.2 177.8,477.3 179,467.9 179.6,473.2 180.2,484.7 180.8,470.8 181.4,479.5 182,473.5 182.6,484.5 183.2,474.6 183.8,476.5 184.4,477.6 185,471.6 185.6,470.4 186.2,478.1 186.8,475.6 187.4,476.8 188,473.7 188.6,482.5 189.2,467.2 189.8,479.1 190.4,485.8 191,479.5 191.6,484.3 192.2,474.8 192.8,484.1 193.4,472.6 194.6,418.5 195.8,392.2 196.4,387.1 197,379 197.6,379.8 198.2,375.6 198.8,377.4 199.4,366.4 200,375.6 200.6,375.8 201.2,368.2 201.8,379.7 202.4,369.9 203,378.6 203.6,371.9 204.2,374.2 204.8,365.8 205.4,372.7 206,363.6 206.6,374.6 207.2,371.7 207.8,371.4 208.4,373.8 209,361.8 210.2,380.4 210.8,376.9 211.4,369.7 212,372.6 212.6,370.6 213.2,376.7 213.8,368.5 214.4,369.3 215,377 215.6,367.5 216.2,379.8 216.8,371.8 217.4,375.7 218,371.3 219.2,378.8 219.8,368.3 220.4,379.1 221,371.5 221.6,369.6 222.2,372.6 223.4,367.6 224,374.5 224.6,361.5 225.2,376 225.8,367 226.4,372.7 227,369.5 227.6,373.2 228.2,372.1 228.8,377.5 229.4,369.7 230,370.9 230.6,371.3 231.2,372.6 231.8,368.9 232.4,370.3 233,365.6 233.6,374.2 234.2,370 234.8,370.9 235.4,372.5 236,372.1 236.6,375.1 237.2,367.2 237.8,386.4 238.4,365.5 239,367.6 239.6,376.2 240.2,370.1 240.8,372.6 241.4,370.9 242,372.8 242.6,370.2 243.8,375.1 244.4,370.3 245,373.2 245.6,374.1 246.2,371.4 246.8,372.7 247.4,369.5 248,369.6 248.6,374 249.2,374.8 249.8,367.7 251,371.2 251.6,380.8 252.2,369.6 252.8,375.8 253.4,368.1 254,376 254.6,370 255.2,376.2 255.8,371.8 256.4,375.8 257,371 257.6,379.5 258.2,368.7 258.8,379 259.4,383.3 260,368.6 260.6,371.5 261.2,376.6 261.8,370 262.4,373.5 263,371.3 263.6,377.1 264.2,368.4 264.8,368.8 265.4,376.5 266,367.5 266.6,372.6 267.2,371.9 267.8,378.7 268.4,361.3 269,372.8 269.6,369.8 270.2,389.4 270.8,372.1 271.4,373.3 272,377.2 272.6,369.7 273.2,373 273.8,365.4 274.4,374.9 275,371.2 275.6,377.7 276.2,364.4 276.8,366.4 277.4,380.9 278,380.5 278.6,372 279.2,374.6 279.8,368.9 280.4,372.7 281,372.1 281.6,369.7 282.2,375.6 282.8,365 283.4,367.5 284,356.9 284.6,375 285.2,376.9 285.8,374.9 286.4,368.7 287,369.6 287.6,373.6 288.2,363.6 288.8,368.3 289.4,369.5 290,373.4 290.6,370.1 291.2,379.6 291.8,367.3 292.4,373 293,371 293.6,371.6 294.2,372.5 294.8,367.1 295.4,378.6 296.6,361.2 297.2,382.4 297.8,371.9 298.4,380.9 299,370.3 299.6,376.9 300.2,370.4 300.8,377 301.4,366.3 302,377.7 302.6,371 303.2,373.8 303.8,363.5 304.4,367.3 305,373.5 305.6,370.5 306.2,372.9 306.8,370.2 307.4,373.1 308,369.3 309.2,377.2 310.4,363.9 311,380.1 311.6,367.2 312.2,373.9 312.8,363.5 313.4,374.5 314,364.7 314.6,373.1 315.2,371.6 315.8,387.6 316.4,373.8 317,374.4 317.6,371.7 318.2,370.6 318.8,374.4 319.4,368.1 320,373.4 320.6,368.3 321.2,368.4 321.8,375 322.4,369.8 323,371.1 323.6,374.4 324.2,370.6 324.8,379.1 325.4,370 326,386.8 326.6,369.2 327.2,376.3 327.8,368.3 328.4,372.6 329,369.5 329.6,375.3 330.2,370.1 330.8,373.1 331.4,371.9 332,374.7 332.6,367.5 333.2,373 333.8,371.8 334.4,375.4 335,364.1 335.6,384.4 336.2,370.8 337.4,434.3 338.6,460.4 339.2,464.5 339.8,473.7 340.4,470.4 341.6,478.2 342.2,475.1 342.8,480.9 343.4,478.8 344,471.9 344.6,482.1 345.2,471.5 345.8,484.8 347,470.8 347.6,469.6 348.2,482.4 348.8,479.4 349.4,487.4 350,475.1 350.6,480.2 351.2,470.2 351.8,482.2 352.4,473 353,491.2 353.6,476.3 354.2,481.4 354.8,476.1 356,481.6 356.6,473.7 357.2,481.7 357.8,479.3 358.4,480.1 359,477.1 359.6,480.7 360.2,475.4 360.8,480.2 362,476.8 362.6,487.9 363.2,469.8 363.8,481.3 364.4,485.6 365,478 365.6,480.7 366.2,476.2 366.8,481.9 367.4,474 368,481.1 368.6,482.6 369.2,476 369.8,484.2 370.4,479.6 371,480.7 371.6,488 372.2,475.5 372.8,480.9 373.4,471.6 374,481.8 374.6,472.8 375.2,482.4 375.8,480.6 376.4,474.5 377,480.8 377.6,480.6 378.2,478.1 378.8,483.7 379.4,477 380,479.7 380.6,473 381.2,483.8 381.8,479.1 382.4,482.7 383,479.3 383.6,483.1 384.2,477.3 384.8,478.7 385.4,482.9 386,478.4 386.6,481.2 387.2,478.5 387.8,486.1 388.4,473.8 389,482.7 389.6,479.5 390.2,482.7 390.8,475 391.4,480.4 392,479.4 392.6,480.2 393.2,477.9 393.8,482.7 394.4,468.4 395.6,484.4 396.2,484.3 396.8,479.1 397.4,476 398,485.2 398.6,478.2 399.2,482.4 399.8,474.4 400.4,484.2 401,479.7 401.6,483.1 402.2,479.1 402.8,479.7 403.4,483 404,475.6 404.6,482.1 405.2,479.8 405.8,481.9 406.4,481.2 407,481.7 407.6,481.3 408.2,477.5 408.8,478.8 409.4,481.2 410,477.1 410.6,481.5 411.2,474.2 411.8,480.5 412.4,472.5 413,482.3 413.6,476.2 414.2,487.7 414.8,470.7 415.4,482.3 416,478.1 416.6,480.9 417.2,478 417.8,483.3 418.4,464.9 419,471.4 420.2,480.1 420.8,490.8 421.4,477.3 422,480.8 422.6,481.2 423.2,485.4 423.8,475.2 424.4,482.8 425,477.5 426.1,484.1 426.7,479.6 427.3,484.7 427.9,475.6 428.5,482.9 429.1,485 429.7,479 430.3,482 430.9,474.4 431.5,475.7 432.1,478.3 432.7,486.3 433.3,478.6 433.9,481.3 434.5,479.2 435.1,475.6 435.7,484.4 436.3,479.7 436.9,484.4 437.5,474.1 438.1,485.4 438.7,474.5 439.3,480.2 439.9,477.5 440.5,482.5 441.1,477 441.7,479.8 442.3,487.2 442.9,475.1 443.5,481.2 444.1,479.2 444.7,480.8 445.3,473.8 445.9,471.4 446.5,480.4 447.1,477.1 447.7,487.8 448.3,475.4 449.5,483.3 450.1,474.6 450.7,480.5 451.3,476.5 452.5,484.4 453.1,472.8 453.7,486 454.3,478.5 454.9,483.6 455.5,478.3 456.1,481.2 456.7,469.8 457.3,481.8 458.5,475.5 459.1,476.6 459.7,481.6 460.3,482.3 460.9,489.3 461.5,478.4 462.7,485.4 463.3,483.6 463.9,486 464.5,469.1 465.1,475.5 465.7,475 466.3,480.5 466.9,478.2 467.5,486 468.1,484.3 468.7,479.5 469.3,479.2 469.9,486.2 470.5,477.4 471.1,481.8 472.3,478.5 472.9,485.6 473.5,471.9 474.1,481.6 474.7,470.5 475.3,478.3 475.9,477.4 476.5,483.3 477.1,473.2 477.7,480.8 478.3,475.6 478.9,475.7 479.5,480.1 480.1,478.8 480.7,483.9 481.3,479.6 481.9,486.6 482.5,472.1 483.1,487.4 483.7,477.6 484.3,489.9 485.5,469.6 486.1,481.4 486.7,472.2 487.3,480.6 487.9,474.8 488.5,474.6 489.1,483.3 489.7,474 490.3,481.2 490.9,471.2 491.5,491.7 492.1,477.9 492.7,484 493.3,473.4 493.9,484.5 495.1,469 495.7,481.1 496.3,476.9 496.9,483.3 497.5,477 498.1,482.5 498.7,474.5 499.3,486.2 499.9,476.4 500.5,481 501.1,467.9 501.7,484.4 502.3,477.5 502.9,485.3 503.5,477.2 504.1,487 504.7,471.1 505.3,480.7 505.9,471.9 506.5,484.7 507.1,477.5 507.7,482.6 508.3,475.6 508.9,476 509.5,491 510.1,477.1 510.7,472.8 511.3,480.7 511.9,479.4 512.5,488.3 513.1,474.6 513.7,488.4 514.3,478.9 514.9,485.8 515.5,469.9 516.1,483.7 516.7,475.9 517.3,480.4 517.9,479.1 518.5,480.9 519.1,473.4 519.7,483.8 520.3,474.7 520.9,477.2 521.5,469.7 522.1,480.8 522.7,474.8 523.3,486.8 523.9,478.7 524.5,473.7 525.1,481.3 525.7,477.8 526.3,470.5 526.9,484.2" fill="none" stroke="#ff1a1a" stroke-width="1.35" stroke-linejoin="round"/>
<polyline points="50.7,478.6 193.5,478.6 193.5,372.2 336.3,372.2 336.3,478.6 526.7,478.6" fill="none" stroke="#1e90ff" stroke-width="1.6" stroke-linejoin="round"/>
<line x1="50.7" y1="319.1" x2="527" y2="319.1" stroke="#8a8a8a" stroke-width="1.5"/>
<line x1="50.7" y1="531.7" x2="527" y2="531.7" stroke="#7f7f7f" stroke-width="1.8"/>
<line x1="50.7" y1="319.1" x2="50.7" y2="540.4" stroke="#7f7f7f" stroke-width="1.6"/>
<line x1="527" y1="319.1" x2="527" y2="540.2" stroke="#8a8a8a" stroke-width="1.6"/>
<line x1="288.6" y1="531.7" x2="288.6" y2="540" stroke="#7f7f7f" stroke-width="1.6"/>
<line x1="41.2" y1="372.2" x2="50.7" y2="372.2" stroke="#555" stroke-width="1.5"/>
<line x1="41.2" y1="478.6" x2="50.7" y2="478.6" stroke="#555" stroke-width="1.5"/>
<rect x="57" y="381" width="129" height="66" fill="#fff" stroke="#fff" stroke-width="0"/>
<rect x="91.5" y="384.7" width="84.7" height="34.8" fill="#fff" stroke="#fff" stroke-width="0"/>
<clipPath id="cbl"><rect x="91.5" y="384.7" width="84.7" height="34.8"/></clipPath>
<line x1="95.8" y1="384.7" x2="95.8" y2="419.5" stroke="#6a6a6a" stroke-width="1.1" stroke-dasharray="1.4 3"/>
<line x1="114.8" y1="384.7" x2="114.8" y2="419.5" stroke="#6a6a6a" stroke-width="1.1" stroke-dasharray="1.4 3"/>
<line x1="133.8" y1="384.7" x2="133.8" y2="419.5" stroke="#6a6a6a" stroke-width="1.1" stroke-dasharray="1.4 3"/>
<line x1="152.8" y1="384.7" x2="152.8" y2="419.5" stroke="#6a6a6a" stroke-width="1.1" stroke-dasharray="1.4 3"/>
<line x1="171.8" y1="384.7" x2="171.8" y2="419.5" stroke="#6a6a6a" stroke-width="1.1" stroke-dasharray="1.4 3"/>
<line x1="91.5" y1="402.4" x2="176.2" y2="402.4" stroke="#6a6a6a" stroke-width="1.1" stroke-dasharray="1.4 3"/>
<line x1="91.5" y1="415.7" x2="176.2" y2="415.7" stroke="#6a6a6a" stroke-width="1.1" stroke-dasharray="1.4 3"/>
<line x1="91.5" y1="389.1" x2="176.2" y2="389.1" stroke="#6a6a6a" stroke-width="1.1" stroke-dasharray="1.4 3"/>
<g clip-path="url(#cbl)">
<polyline points="91.5,415.6 100,415.4 112,416.3 115.9,415.6 121.7,402.4 126.8,395.5 131.2,391.5 134.1,389.8 139,389 142,389.5 151,389.1 154,389.5 157,389.5 169,388.9 175,389.4" fill="none" stroke="#18c018" stroke-width="1.5" stroke-linejoin="round"/>
<polyline points="91,414.6 93,416.3 95,415 97,415 99,414.5 101,416.8 103,416.2 105,416.5 107,415.9 109,414.5 111,415.2 113,415.6 113.5,416.8 115.9,415.6 119.5,403.1 122.5,393.6 124.3,392.5 126.8,390.6 131.2,389.5 133,390.6 135,388.8 137,390.4 139,390.4 141,387.3 143,390 145,387.8 147,390.5 149,388.7 151,390.4 153,388.8 155,391 157,388.8 159,390.8 161,389.6 163,389.3 165,388.7 167,387.4 169,388.4 173,388.2 175,389.1 177,388.5" fill="none" stroke="#ff1a1a" stroke-width="1.4" stroke-linejoin="round"/>
<polyline points="91.5,415.7 115,415.7 115,389.2 176.2,389.2" fill="none" stroke="#1e90ff" stroke-width="1.7" stroke-linejoin="round"/>
</g>
<rect x="91.5" y="384.7" width="84.7" height="34.8" fill="none" stroke="#9a9a9a" stroke-width="1.3"/>
<line x1="176.2" y1="384.7" x2="176.2" y2="419.5" stroke="#666" stroke-width="1.4"/>
<line x1="91.5" y1="419.5" x2="176.2" y2="419.5" stroke="#888" stroke-width="1.4"/>
<line x1="84.2" y1="389.1" x2="91.5" y2="389.1" stroke="#aaa" stroke-width="1.5"/>
<line x1="84.2" y1="402.4" x2="91.5" y2="402.4" stroke="#555" stroke-width="1.6"/>
<line x1="84.2" y1="415.7" x2="91.5" y2="415.7" stroke="#555" stroke-width="1.6"/>
<line x1="95.8" y1="419.5" x2="95.8" y2="426" stroke="#555" stroke-width="1.5"/>
<line x1="133.8" y1="419.5" x2="133.8" y2="426" stroke="#555" stroke-width="1.5"/>
<line x1="171.8" y1="419.5" x2="171.8" y2="426" stroke="#555" stroke-width="1.5"/>
<text x="58.06" y="394.9" font-family='"Liberation Serif", "Noto Serif CJK SC", serif' font-size="18.3" fill="#1e1e1e" textLength="21.91" lengthAdjust="spacingAndGlyphs">1.0</text>
<text x="64.39" y="419.9" font-family='"Liberation Serif", "Noto Serif CJK SC", serif' font-size="18.3" fill="#1e1e1e" textLength="9.32" lengthAdjust="spacingAndGlyphs">0</text>
<text x="86.03" y="444.2" font-family='"Liberation Serif", "Noto Serif CJK SC", serif' font-size="18.3" fill="#1e1e1e" textLength="21.94" lengthAdjust="spacingAndGlyphs">2.8</text>
<text x="160.93" y="444" font-family='"Liberation Serif", "Noto Serif CJK SC", serif' font-size="18.3" fill="#1e1e1e" textLength="22.61" lengthAdjust="spacingAndGlyphs">3.6</text>
<rect x="212" y="453" width="116.5" height="53" fill="#fff" stroke="#fff" stroke-width="0"/>
<rect x="245.7" y="460.3" width="81.5" height="36.9" fill="#fff" stroke="#fff" stroke-width="0"/>
<clipPath id="cbm"><rect x="245.7" y="460.3" width="81.5" height="36.9"/></clipPath>
<line x1="258.4" y1="460.3" x2="258.4" y2="497.2" stroke="#6a6a6a" stroke-width="1.1" stroke-dasharray="1.4 3"/>
<line x1="286.7" y1="460.3" x2="286.7" y2="497.2" stroke="#6a6a6a" stroke-width="1.1" stroke-dasharray="1.4 3"/>
<line x1="315" y1="460.3" x2="315" y2="497.2" stroke="#6a6a6a" stroke-width="1.1" stroke-dasharray="1.4 3"/>
<line x1="245.7" y1="460.8" x2="327.2" y2="460.8" stroke="#6a6a6a" stroke-width="1.1" stroke-dasharray="1.4 3"/>
<line x1="245.7" y1="495.9" x2="327.2" y2="495.9" stroke="#6a6a6a" stroke-width="1.1" stroke-dasharray="1.4 3"/>
<g clip-path="url(#cbm)">
<polyline points="245.6,478.3 246.8,475.6 248.4,476.8 249.9,479.1 252.6,475.1 254.9,475.6 258.9,476 261.2,479.1 264.3,484.2 267.5,481.5 270.6,475.2 272.9,474.8 276.1,476.8 278.4,477.9 280.7,475.6 283.1,479.1 284.7,484.2 286.2,484.2 288.6,476.8 291.7,473 293.7,476 295.6,480.6 297.9,474 300,479.9 301.5,481.1 304.2,480.6 306.5,478.3 309.7,474 312.8,476 315.9,476.4 318.7,477.9 321.4,478.3 324.1,474.6 328,477.1" fill="none" stroke="#18c018" stroke-width="1.6" stroke-linejoin="round"/>
<polyline points="245.6,478.3 246.8,472.9 248.4,475.2 249.9,479.9 252.6,471.8 254.9,472.9 258.9,473.6 261.2,479.9 264.3,490.1 267.5,484.6 270.6,472.1 272.9,471.3 276.1,475.2 278.4,477.5 280.7,472.9 283.1,479.9 284.7,490.1 286.2,490.1 288.6,475.2 291.7,467.7 293.7,473.6 295.6,483 297.9,469.7 300,481.5 301.5,483.8 304.2,483 306.5,478.3 309.7,469.7 312.8,473.6 315.9,474.4 318.7,477.5 321.4,478.3 324.1,470.8 328,476" fill="none" stroke="#ff1a1a" stroke-width="1.5" stroke-linejoin="round"/>
<polyline points="245.7,478.3 327.2,478.3" fill="none" stroke="#1e90ff" stroke-width="1.7" stroke-linejoin="round"/>
</g>
<rect x="245.7" y="460.3" width="81.5" height="36.9" fill="none" stroke="#7a7a7a" stroke-width="1.4"/>
<line x1="238" y1="460.8" x2="245.7" y2="460.8" stroke="#555" stroke-width="1.6"/>
<line x1="238" y1="478.35" x2="245.7" y2="478.35" stroke="#555" stroke-width="1.6"/>
<line x1="238" y1="495.9" x2="245.7" y2="495.9" stroke="#555" stroke-width="1.6"/>
<line x1="258.4" y1="497.2" x2="258.4" y2="504.8" stroke="#555" stroke-width="1.5"/>
<line x1="315" y1="497.2" x2="315" y2="504.8" stroke="#555" stroke-width="1.5"/>
<text x="214.57" y="467.6" font-family='"Liberation Serif", "Noto Serif CJK SC", serif' font-size="18.3" fill="#1e1e1e" textLength="18.94" lengthAdjust="spacingAndGlyphs">1.1</text>
<text x="213.13" y="501.6" font-family='"Liberation Serif", "Noto Serif CJK SC", serif' font-size="18.3" fill="#1e1e1e" textLength="21.99" lengthAdjust="spacingAndGlyphs">0.9</text>
<text x="246.65" y="522.9" font-family='"Liberation Serif", "Noto Serif CJK SC", serif' font-size="18.3" fill="#1e1e1e" textLength="22.14" lengthAdjust="spacingAndGlyphs">4.3</text>
<text x="302.65" y="522.9" font-family='"Liberation Serif", "Noto Serif CJK SC", serif' font-size="18.3" fill="#1e1e1e" textLength="22.66" lengthAdjust="spacingAndGlyphs">4.5</text>
<rect x="364" y="401" width="151.5" height="71" fill="#fff" stroke="#fff" stroke-width="0"/>
<rect x="404.5" y="403.8" width="109.5" height="45" fill="#fff" stroke="#fff" stroke-width="0"/>
<clipPath id="cbr"><rect x="404.5" y="403.8" width="109.5" height="45"/></clipPath>
<line x1="411.8" y1="403.8" x2="411.8" y2="448.8" stroke="#6a6a6a" stroke-width="1.1" stroke-dasharray="1.4 3"/>
<line x1="443.6" y1="403.8" x2="443.6" y2="448.8" stroke="#6a6a6a" stroke-width="1.1" stroke-dasharray="1.4 3"/>
<line x1="475.4" y1="403.8" x2="475.4" y2="448.8" stroke="#6a6a6a" stroke-width="1.1" stroke-dasharray="1.4 3"/>
<line x1="507.2" y1="403.8" x2="507.2" y2="448.8" stroke="#6a6a6a" stroke-width="1.1" stroke-dasharray="1.4 3"/>
<line x1="404.5" y1="409.9" x2="514" y2="409.9" stroke="#6a6a6a" stroke-width="1.1" stroke-dasharray="1.4 3"/>
<line x1="404.5" y1="426.1" x2="514" y2="426.1" stroke="#6a6a6a" stroke-width="1.1" stroke-dasharray="1.4 3"/>
<line x1="404.5" y1="442.3" x2="514" y2="442.3" stroke="#6a6a6a" stroke-width="1.1" stroke-dasharray="1.4 3"/>
<g clip-path="url(#cbr)">
<polyline points="404,410.3 410,409.9 413,410.7 416,409.8 422,410.7 425,409.9 428,410.4 431,410.4 434,409.8 440,410.5 443,410.3 445.4,410.5 449.2,414 455.7,424.9 459,429.3 463.4,433.1 467.7,436.4 472.1,438.5 480.8,441.5 486,442.2 514,442.4" fill="none" stroke="#18c018" stroke-width="1.6" stroke-linejoin="round"/>
<polyline points="404,410.1 406,407.9 408,410.3 410,410.9 412,410.4 414,410.7 416,410.4 418,408.5 420,412.9 422,412 424,410.4 426,409.8 428,409.6 430,408.5 432,408.4 434,410.3 436,407.5 438,409.8 440,410 442,408.1 445.4,410.5 448.1,412.9 450.8,419.5 455.2,432.5 456.8,436.4 462.3,439.6 465.5,440.7 470,441 472,442.8 474,442.5 476,440.8 478,441.5 481,443.5 484,441.5 487,442.5 489,444.5 490,446 492,441 495,438.5 497,443 500,441.5 503,444 506,442 509,443.5 512,441.5 515,442.5" fill="none" stroke="#ff1a1a" stroke-width="1.5" stroke-linejoin="round"/>
<polyline points="404.5,410.2 443.7,410.2 443.7,442.4 514,442.4" fill="none" stroke="#1e90ff" stroke-width="1.7" stroke-linejoin="round"/>
</g>
<rect x="404.5" y="403.8" width="109.5" height="45" fill="none" stroke="#9a9a9a" stroke-width="1.4"/>
<line x1="404.5" y1="403.8" x2="404.5" y2="448.8" stroke="#6a6a6a" stroke-width="1.6"/>
<line x1="396.4" y1="409.9" x2="404.5" y2="409.9" stroke="#555" stroke-width="1.6"/>
<line x1="396.4" y1="426.1" x2="404.5" y2="426.1" stroke="#555" stroke-width="1.6"/>
<line x1="396.4" y1="442.3" x2="404.5" y2="442.3" stroke="#555" stroke-width="1.6"/>
<line x1="411.8" y1="448.8" x2="411.8" y2="455.9" stroke="#555" stroke-width="1.5"/>
<line x1="475.4" y1="448.8" x2="475.4" y2="455.9" stroke="#555" stroke-width="1.5"/>
<text class="b" transform="translate(0,415.8)" y="0" text-anchor="middle" font-family='"Liberation Serif", "Noto Serif CJK SC", serif' font-size="17" fill="#1e1e1e" xml:space="preserve"><tspan x="370.8" textLength="7.63" lengthAdjust="spacingAndGlyphs">1</tspan><tspan x="377.2">.</tspan><tspan x="387.2" textLength="7.63" lengthAdjust="spacingAndGlyphs">0</tspan></text>
<text class="b" transform="translate(0,432.2)" y="0" text-anchor="middle" font-family='"Liberation Serif", "Noto Serif CJK SC", serif' font-size="17" fill="#1e1e1e" xml:space="preserve"><tspan x="370.8" textLength="7.63" lengthAdjust="spacingAndGlyphs">0</tspan><tspan x="377.2">.</tspan><tspan x="387.2" textLength="7.63" lengthAdjust="spacingAndGlyphs">5</tspan></text>
<text class="b" transform="translate(0,448.2)" y="0" text-anchor="middle" font-family='"Liberation Serif", "Noto Serif CJK SC", serif' font-size="17" fill="#1e1e1e" xml:space="preserve"><tspan x="370.8" textLength="7.63" lengthAdjust="spacingAndGlyphs">0</tspan><tspan x="377.2">.</tspan><tspan x="387.2" textLength="7.63" lengthAdjust="spacingAndGlyphs">0</tspan></text>
<text class="b" transform="translate(0,471.4)" y="0" text-anchor="middle" font-family='"Liberation Serif", "Noto Serif CJK SC", serif' font-size="17" fill="#1e1e1e" xml:space="preserve"><tspan x="403.4" textLength="7.44" lengthAdjust="spacingAndGlyphs">5</tspan><tspan x="409.7">.</tspan><tspan x="419.4" textLength="7.44" lengthAdjust="spacingAndGlyphs">8</tspan></text>
<text class="b" transform="translate(0,471.6)" y="0" text-anchor="middle" font-family='"Liberation Serif", "Noto Serif CJK SC", serif' font-size="17" fill="#1e1e1e" xml:space="preserve"><tspan x="466.55" textLength="7.72" lengthAdjust="spacingAndGlyphs">6</tspan><tspan x="473">.</tspan><tspan x="483.15" textLength="7.72" lengthAdjust="spacingAndGlyphs">2</tspan></text>
<ellipse cx="197.9" cy="429.6" rx="9.8" ry="62.8" fill="none" stroke="#000" stroke-width="2"/>
<ellipse cx="266.8" cy="373.2" rx="28.6" ry="12.3" fill="none" stroke="#000" stroke-width="2"/>
<ellipse cx="336" cy="424" rx="9.9" ry="62.5" fill="none" stroke="#000" stroke-width="2"/>
<line x1="191.5" y1="370" x2="177" y2="373.8" stroke="#000" stroke-width="2"/>
<polygon points="167.2,375.8 181.2,367.8 181.8,379.8" fill="#000"/>
<line x1="269.2" y1="385.5" x2="269.2" y2="444" stroke="#000" stroke-width="2"/>
<polygon points="262.6,440.6 276.2,440.6 269.4,455.2" fill="#000"/>
<line x1="346" y1="425" x2="356" y2="425" stroke="#000" stroke-width="2"/>
<polygon points="353.6,419.4 367.4,425.2 353.6,431.4" fill="#000"/>
<rect x="340.7" y="320.7" width="184.8" height="63.7" fill="#fff" stroke="#111" stroke-width="1.8"/>
<line x1="342.2" y1="331" x2="346.4" y2="331" stroke="#1e90ff" stroke-width="1.6"/>
<line x1="342.2" y1="351.5" x2="346.4" y2="351.5" stroke="#40b840" stroke-width="1.6"/>
<line x1="342.2" y1="372" x2="346.4" y2="372" stroke="#ff1a1a" stroke-width="1.6"/>
<text x="347.8" y="336.2" font-family='"Liberation Serif", "Noto Serif CJK SC", serif' font-size="17.6" fill="#1e1e1e" class="b">:</text>
<text x="347.8" y="356.8" font-family='"Liberation Serif", "Noto Serif CJK SC", serif' font-size="17.6" fill="#1e1e1e" class="b">:</text>
<text x="347.8" y="377.6" font-family='"Liberation Serif", "Noto Serif CJK SC", serif' font-size="17.6" fill="#1e1e1e" class="b">:</text>
<text x="357.1" y="336.2" font-family='"Liberation Serif", "Noto Serif CJK SC", serif' font-size="17.6" fill="#1e1e1e" textLength="83.4" lengthAdjust="spacingAndGlyphs" class="b">Given Load</text>
<text x="357.1" y="356.8" font-family='"Liberation Serif", "Noto Serif CJK SC", serif' font-size="17.6" fill="#1e1e1e" textLength="136.5" lengthAdjust="spacingAndGlyphs" class="b">ESO observed load</text>
<text x="357.1" y="377.6" font-family='"Liberation Serif", "Noto Serif CJK SC", serif' font-size="17.6" fill="#1e1e1e" textLength="167.4" lengthAdjust="spacingAndGlyphs" class="b">A-DESO observed load</text>
<text x="29.43" y="378.5" font-family='"Liberation Serif", "Noto Serif CJK SC", serif' font-size="18.3" fill="#1e1e1e" textLength="7.24" lengthAdjust="spacingAndGlyphs">1</text>
<text x="28.82" y="484.7" font-family='"Liberation Serif", "Noto Serif CJK SC", serif' font-size="18.3" fill="#1e1e1e" textLength="8.97" lengthAdjust="spacingAndGlyphs">0</text>
<text x="46.05" y="554.6" font-family='"Liberation Serif", "Noto Serif CJK SC", serif' font-size="18.3" fill="#1e1e1e" textLength="8.49" lengthAdjust="spacingAndGlyphs">0</text>
<text class="b" transform="translate(0,554.2)" y="0" text-anchor="middle" font-family='"Liberation Serif", "Noto Serif CJK SC", serif' font-size="17" fill="#1e1e1e" xml:space="preserve"><tspan x="288.4" textLength="7.44" lengthAdjust="spacingAndGlyphs">5</tspan></text>
<text x="518.56" y="555" font-family='"Liberation Serif", "Noto Serif CJK SC", serif' font-size="18.3" fill="#1e1e1e" textLength="17.51" lengthAdjust="spacingAndGlyphs">10</text>
<text transform="translate(0,574.2)" y="0" text-anchor="middle" font-family='"Liberation Serif", "Noto Serif CJK SC", serif' font-size="18.6" fill="#1e1e1e" xml:space="preserve"><tspan x="263.8" y="0" textLength="8.3" lengthAdjust="spacingAndGlyphs">T</tspan><tspan x="271.8" y="0">i</tspan><tspan x="279.8" y="0" textLength="8.3" lengthAdjust="spacingAndGlyphs">m</tspan><tspan x="287.8" y="0">e</tspan><tspan x="295.8" y="-1.6" font-size="16">(</tspan><tspan x="303.8" y="0">s</tspan><tspan x="311.8" y="-1.6" font-size="16">)</tspan></text>
<text x="266.4" y="597.6" font-family='"Liberation Serif", "Noto Serif CJK SC", serif' font-size="21.5" fill="#1e1e1e" textLength="27.9" lengthAdjust="spacingAndGlyphs">(<tspan font-weight="bold">b</tspan>)</text>
<g transform="translate(20.9,479.8) rotate(-90)">
<text x="0" y="0" font-family='"Liberation Serif", "Noto Serif CJK SC", serif' font-size="18" fill="#1e1e1e" textLength="89.2" lengthAdjust="spacingAndGlyphs" class="b">Torque (Nm)</text>
</g>
<line x1="75.4" y1="693.92" x2="527.3" y2="693.92" stroke="#6a6a6a" stroke-width="1.1" stroke-dasharray="1.4 3"/>
<line x1="75.4" y1="759.46" x2="527.3" y2="759.46" stroke="#6a6a6a" stroke-width="1.1" stroke-dasharray="1.4 3"/>
<line x1="75.4" y1="825" x2="527.3" y2="825" stroke="#6a6a6a" stroke-width="1.1" stroke-dasharray="1.4 3"/>
<line x1="300.9" y1="628.5" x2="300.9" y2="841.5" stroke="#6a6a6a" stroke-width="1.1" stroke-dasharray="1.4 3"/>
<polyline points="114.2,656 114.7,653.3 115.8,650.6 118,647.6 118.5,647.6 119.1,648 119.6,647.7 120.1,648.9 120.7,647.2 121.2,648.3 121.8,648.9 122.3,648 122.8,648.4 123.4,647.6 123.9,647.7 124.5,648.8 125,648.8 125.6,648.3 126.1,648.3 126.6,647.9 127.2,648.1 127.7,647.5 128.8,647.6 129.3,646.5 129.9,647.6 131,648.1 131.5,647.7 132,648.6 132.6,647.3 133.1,648.8 133.7,647.8 134.2,648.4 134.8,647.4 135.3,648.2 135.8,648.5 136.4,648.5 136.9,648.1 137.5,648.5 138,648.1 138.5,650.2 139.1,647.7 139.6,648.7 140.7,647.6 141.8,649.1 142.3,647.6 142.9,647.9 143.4,648.9 144,648.2 144.5,647.9 145,648.5 145.6,647.7 146.1,647.6 146.7,648.4 147.2,647.9 147.7,648.7 148.3,647.7 148.8,649.8 149.4,648 149.9,649.5 150.4,645.6 151,647.9 151.5,647.9 152.1,648.3 152.6,647.4 153.7,647.7 154.2,648.5 154.8,647.9 155.3,647.8 155.9,648 156.4,647.2 156.9,648.6 157.5,645.3 158,647.4 159.1,648.8 159.6,647.6 160.2,648.3 160.7,647.5 161.3,648.9 161.8,648.9 162.4,648.2 162.9,649.5 163.4,648.1 164,647.4 164.5,646.2 165.1,648.7 165.6,647.7 166.1,648.3 166.7,647.2 167.2,647.5 167.8,648.1 168.3,646.8 168.8,648 169.4,646.8 169.9,648.1 170.5,647.5 171,647.3 171.6,647.7 172.1,647.5 172.6,648 173.2,650.3 173.7,649.6 174.3,648 174.8,648.6 175.3,648 175.9,648.1 176.4,648.8 177,647.1 177.5,647.9 179.1,648.1 179.7,647.5 180.2,648.1 180.8,648.1 181.3,647 181.8,647.7 182.4,647.6 183.5,648.2 184,647.8 184.5,648.1 185.1,647.8 186.2,647.8 187.2,648.2 187.8,648.6 188.3,648.3 188.9,647.2 190,648.2 190.5,647.9 191,648.8 192.1,647.9 192.7,648.1 193.2,647.9 193.7,647.9 194.3,648.2 194.8,647.7 195.4,647.7 195.9,648.2 196.4,647.8 197,646.3 197.5,648.6 198.1,646.6 198.6,647.5 199.2,647.9 199.7,646.2 200.2,648.5 200.8,647.4 202.4,648.3 202.9,648.4 203.5,647.9 204,649.1 205.1,647.5 206.2,647.7 206.7,648.1 207.3,648.1 207.8,647.8 208.9,648.7 209.4,648 210,646.5 210.5,647.3 211.1,647.7 211.6,650 212.1,648.8 213.8,649.9 214.8,651.4 215.4,651.7 215.9,651.1 216.5,651.9 217,650.4 217.6,651.6 218.1,651.5 218.6,650.7 219.2,651.8 219.7,651.7 220.3,652.1 221.3,650.8 221.9,651.7 223,650.8 224,651.2 224.6,651.2 225.1,651.6 226.8,651.4 227.3,653.4 227.8,651.4 228.4,652 228.9,648.9 229.5,650.4 230,650.8 230.5,649.9 231.1,651.3 231.6,651.1 232.2,652.1 232.7,651.7 233.2,652.6 233.8,651.3 234.3,651.3 234.9,651.4 235.4,651.7 236,652.5 236.5,651.6 237.6,651.4 238.1,651.5 238.7,653.2 239.2,651.4 240.3,652.8 240.8,651.5 241.4,651.5 241.9,652.2 243,650.6 244.1,651.6 245.2,651.3 246.8,652.1 247.9,651.2 248.4,652.5 248.9,651.9 249.5,652 250,651 250.6,652 251.1,651.7 252.2,651.8 252.7,652.2 253.3,651.7 253.8,652.1 254.4,651.2 255.4,651.8 256,650.7 256.5,652.1 257.1,649.3 257.6,650.8 258.1,651.1 258.7,651.8 259.2,650.3 259.8,651.5 260.3,651.2 261.4,651.6 261.9,650.7 262.5,651.5 263,650.9 263.6,651.5 265.2,651.3 265.7,651.7 266.3,651.1 266.8,650.9 267.3,651.6 269,651.3 269.5,650.9 270.6,652.7 271.7,650.2 272.2,651 272.8,650.9 273.3,651.5 273.8,651 274.4,651.2 274.9,650.8 276,651.2 276.5,650.9 277.1,651.4 277.6,651.4 278.2,651.1 278.7,650 279.3,651.8 279.8,651.2 280.3,651.8 280.9,651.2 281.4,651.4 282,650.9 282.5,651.3 283,651.3 283.6,651.8 284.1,650.6 284.7,651.5 285.2,652 285.7,651.3 286.3,651.7 286.8,651.7 287.4,651.5 287.9,651.2 288.5,650.4 289,651.3 289.5,651.4 290.6,650.7 291.2,653.7 291.7,650.5 292.2,651.5 292.8,650.5 293.3,651.9 293.9,651.1 294.4,650.9 294.9,650.3 295.5,650.6 296,652.5 296.6,652.2 297.1,651.1 297.7,650.5 298.2,651.6 298.7,649.2 299.3,649.5 299.8,651.9 300.9,651 302,651.3 303.1,650.8 303.6,651.4 304.1,650.8 304.7,651 305.2,651.7 305.8,650.8 306.3,651.2 306.9,652.2 307.4,651.5 308.5,651.5 309,651.3 309.6,651.8 310.1,650.5 310.6,651.3 311.2,652.8 311.7,650.7 312.3,651.2 312.8,650.2 313.3,651.3 314.4,651.1 315,649.3 315.5,651.7 316.1,652.6 316.6,651.1 317.1,652.3 317.7,650.7 318.2,650.9 318.8,650.2 319.8,651.7 320.9,651.4 321.5,653.1 322,651.6 322.5,651.8 323.1,651.2 323.6,649.4 324.2,650.7 324.7,650.9 325.3,652.6 325.8,650.2 326.3,651.1 326.9,650.9 327.4,651.6 328.5,650.4 329,651.4 329.6,651.1 331.7,650.8 332.8,652 333.9,651.3 334.5,650.4 335,651.4 335.5,650.1 336.1,651.8 336.6,652.2 337.7,650.4 338.2,652.8 338.8,652.4 339.3,651.4 339.9,652.1 340.4,651.2 340.9,650.8 341.5,651.4 342,651.7 342.6,651.6 343.1,650.8 343.7,651.7 344.2,650.7 344.7,651.2 345.3,650.9 345.8,651.2 346.4,651.2 346.9,649.9 347.4,650.9 348,649.1 348.5,650.1 349.1,648.9 349.6,649.2 350.1,646.9 350.7,647.9 351.2,648.4 351.8,648.1 352.3,646.7 352.9,647.5 354.5,648.9 355.6,647.4 356.1,648.6 356.6,648.6 357.2,648.3 358.3,648.4 359.9,647.9 360.4,647.5 361,647.3 361.5,648.6 362.1,647.6 362.6,647.2 363.1,646.2 363.7,647.8 364.2,647.8 364.8,646.5 365.8,648.1 366.4,647.9 366.9,648.1 367.5,647.7 368.6,647.8 369.1,648.1 369.6,646.9 370.2,646.9 371.3,648.4 371.8,646.4 372.3,648.4 372.9,648.1 373.4,647.3 374,648.3 374.5,646.1 375,648.4 375.6,648.4 376.1,647.2 376.7,648.2 377.2,648.8 377.8,647.2 378.3,648.3 378.8,648.1 379.4,646 380.5,648.2 381,647.6 382.1,648.3 382.6,647.2 383.2,646.7 383.7,647.9 384.2,647.5 384.8,648.1 385.3,648.3 385.9,648.4 386.4,647.7 387,648 387.5,648.8 388.6,648.2 389.1,649.4 389.7,648.2 390.2,648.1 390.7,647.1 391.8,648.4 392.4,647.8 392.9,648.2 393.4,649 394,648.8 394.5,647.8 395.1,648.5 395.6,648.8 396.2,648.7 397.2,647.8 397.8,648.3 398.3,647.5 398.9,648.7 399.4,647.9 400.5,648.9 401.6,648 402.1,648.1 402.6,649.3 403.2,647.5 403.7,648.2 404.3,647.1 404.8,648.9 405.4,647.6 405.9,647.2 406.4,646.1 407,647.6 407.5,648.3 408.1,648.2 408.6,647.3 409.1,648.5 409.7,648.1 410.2,648.1 411.3,649 412.4,648 413.5,648.5 414,647.5 414.6,647.5 415.1,647.2 415.6,648.1 416.2,647.4 416.7,647.8 417.3,647.3 417.8,647.4 418.3,648.6 418.9,648 419.4,648 420.5,648.8 421,647 422.1,648.6 422.7,646.9 423.2,649.4 423.8,648.1 424.3,647.6 424.8,648.9 425.4,646.7 425.9,645.8 426.5,648.4 427,647.9 427.5,649.2 428.1,646.1 428.6,648.2 429.7,647.5 430.2,647.8 430.8,646.3 431.3,648.5 431.9,649.4 432.4,648.2 433,648.4 433.5,647.7 434.6,647.8 435.1,647.3 435.7,647.4 436.7,648.1 437.3,647.6 437.8,649.2 438.4,648.5 438.9,648.8 439.4,648.6 441.1,647 441.6,647.8 442.2,648.2 443.8,648.4 444.9,647.6 445.4,648 447,647.9 447.6,650.1 448.1,648.4 448.6,647.7 450.3,648.4 450.8,647.4 451.9,648.8 452.4,648.5 453,646.5 453.5,648.3 454.1,648.2 454.6,646.3 455.1,648.1 455.7,647 456.2,648.9 456.8,647.9 457.8,648 458.4,647.5 458.9,649.8 459.5,647.2 460,647.2 460.6,647.8 461.1,647.5 462.2,648.3 462.7,648.3 463.8,647.1 464.3,647.8 464.9,647.9 466,649.2 466.5,648.2 467,647.9 467.6,648.4 468.1,648.5 468.7,647.6 469.2,648.5 469.8,648.3 470.3,648.5 470.8,648.1 471.4,647.2 471.9,648.3 472.5,648.3 473.5,647.5 474.1,648.1 474.6,647.8 475.7,649.1 476.2,647.1 477.3,649 477.9,647.4 478.4,647.6 479,649.1 479.5,648.7 480,647.2 480.6,648.2 481.1,648.3 481.7,647.6 482.2,647.6 482.7,648.2 483.3,648 483.8,648.3 484.4,648.1 484.9,650.2 485.4,647.2 486,647.8 487.1,647.1 487.6,648.9 488.2,648.3 488.7,646.2 489.2,648.7 490.9,647.4 492.5,648.9 493,648.8 493.6,647.7 494.1,648.2 494.6,647.4 495.2,647.5 495.7,648.8 496.3,647.9 496.8,647.6 497.4,647.6 497.9,648.3 498.4,647.7 499,647.6 499.5,648.2 500.1,647.7 500.6,646.6 501.7,648.7 502.2,647.3 502.8,647.9 503.3,649 504.4,648 504.9,648.7 505.5,647.7 506,648.5 506.6,647.2 507.1,647.4 507.6,648.4 508.2,647.6 508.7,648.5 509.8,647.1 510.3,648.3 510.9,647.6 512,648.5 512.5,647.6 513.1,647.4 515.2,648.9 515.8,647.3 516.3,649.1 517.4,647.4 517.9,648.4 519,648.3 519.5,647.9 520.1,648.2 520.6,647.2 521.2,648.1 522.3,648.3 522.8,647 523.3,648.8 523.9,648 524.4,647.9 525,648 525.5,647.6 526,648.6 526.6,648.7" fill="none" stroke="#22cc22" stroke-width="2" stroke-linejoin="round"/>
<polyline points="75.4,828.9 114.6,657.9 116.4,651.6 117.8,648.9 118.7,648.1 211.6,648 217,651.3 346.9,651.3 352.3,648 526.4,648" fill="none" stroke="#ff4050" stroke-width="1" stroke-linejoin="round"/>
<polyline points="75.4,827 114.2,657.9 115.1,654.3 116.4,650.5 117.3,648.9 118.2,648.1 211.2,648 216.6,651.3 346.5,651.3 351.9,648 526.4,648" fill="none" stroke="#2288ee" stroke-width="1" stroke-linejoin="round"/>
<polyline points="75.4,825 113.7,657.9 114.6,654.3 116,650.5 116.9,648.9 117.8,648.1 210.7,648 216.1,651.3 346,651.3 351.4,648 526.4,648" fill="none" stroke="#ffa000" stroke-width="1.6" stroke-linejoin="round"/>
<line x1="75.4" y1="628.2" x2="527.3" y2="628.2" stroke="#555" stroke-width="1.5"/>
<line x1="75.4" y1="841.5" x2="527.3" y2="841.5" stroke="#7f7f7f" stroke-width="1.8"/>
<line x1="75.4" y1="628.2" x2="75.4" y2="849.5" stroke="#7f7f7f" stroke-width="1.6"/>
<line x1="527.3" y1="628.2" x2="527.3" y2="849.9" stroke="#7f7f7f" stroke-width="1.6"/>
<line x1="300.9" y1="841.5" x2="300.9" y2="849.6" stroke="#7f7f7f" stroke-width="1.6"/>
<line x1="66.4" y1="628.38" x2="75.4" y2="628.38" stroke="#555" stroke-width="1.5"/>
<line x1="66.4" y1="693.92" x2="75.4" y2="693.92" stroke="#555" stroke-width="1.5"/>
<line x1="66.4" y1="759.46" x2="75.4" y2="759.46" stroke="#555" stroke-width="1.5"/>
<line x1="66.4" y1="825" x2="75.4" y2="825" stroke="#555" stroke-width="1.5"/>
<rect x="135" y="673" width="152.5" height="73" fill="#fff" stroke="#fff" stroke-width="0"/>
<rect x="184.9" y="675.4" width="101.4" height="45.2" fill="#fff" stroke="#fff" stroke-width="0"/>
<clipPath id="cc1"><rect x="184.9" y="675.4" width="101.4" height="45.2"/></clipPath>
<line x1="201.2" y1="675.4" x2="201.2" y2="720.6" stroke="#6a6a6a" stroke-width="1.1" stroke-dasharray="1.4 3"/>
<line x1="226.4" y1="675.4" x2="226.4" y2="720.6" stroke="#6a6a6a" stroke-width="1.1" stroke-dasharray="1.4 3"/>
<line x1="251.6" y1="675.4" x2="251.6" y2="720.6" stroke="#6a6a6a" stroke-width="1.1" stroke-dasharray="1.4 3"/>
<line x1="276.8" y1="675.4" x2="276.8" y2="720.6" stroke="#6a6a6a" stroke-width="1.1" stroke-dasharray="1.4 3"/>
<line x1="184.9" y1="687.8" x2="286.3" y2="687.8" stroke="#6a6a6a" stroke-width="1.1" stroke-dasharray="1.4 3"/>
<line x1="184.9" y1="709.6" x2="286.3" y2="709.6" stroke="#6a6a6a" stroke-width="1.1" stroke-dasharray="1.4 3"/>
<g clip-path="url(#cc1)">
<polyline points="185,683 188,683 188,690 190.5,690 190.5,684.5 193,684.5 193,691 196,691 196,685 198.5,685 198.5,677.5 201,677.5 201,692 203,692 203,689 205.5,689 205.5,697 208,697 208,692 210,692 210,702 212.5,702 212.5,695 215,695 215,705 217.5,705 217.5,699 220,699 220,708 222.5,708 222.5,703 225,703 225,712.5 228,712.5 228,703 230.3,703 230.3,716 232,716 232,707 234.8,707 234.8,708.6 237,708.6 237,707 243.8,707 243.8,719.3 246.6,719.3 246.6,696.8 248.9,696.8 248.9,712.5 250.5,712.5 250.5,698.5 252.2,698.5 252.2,712 254.5,712 254.5,699.6 256.2,699.6 256.2,713.7 257.9,713.7 257.9,700.7 259,700.7 259,708.6 261.3,708.6 261.3,701.8 264.1,701.8 264.1,714.2 266.3,714.2 266.3,707 269.1,707 269.1,701.3 271.4,701.3 271.4,709.7 274.2,709.7 274.2,710.3 276.5,710.3 276.5,703.5 278.2,703.5 278.2,707 284.4,707 284.4,718.2 287,718.2" fill="none" stroke="#22cc22" stroke-width="1.7" stroke-linejoin="round"/>
<polyline points="184.9,689 195,687.5 200.1,686.5 203.8,687.2 207.6,687.2 210,685.3 212.4,688.2 219.9,693.4 223.7,696.7 227.5,698.1 230.3,699.5 233.1,702.4 236,703.5 239,704 242,706.5 245,707.5 247,705 249,707.5 251,704.5 253,707 256,706 260,707.5 264,707 268,705.5 272,707.5 276,706.5 280,706 286.3,707.5" fill="none" stroke="#ff2030" stroke-width="1.6" stroke-linejoin="round"/>
<polyline points="184.9,688.5 189.7,687.2 195.3,687.2 200.1,685.8 205.7,686.3 210,683.9 212.4,686.3 215.2,691 219,694.8 221.8,698.6 224.6,703.3 227.5,704.7 232.2,705.2 240,706.5 250,707.2 260,706.6 270,707.2 286.3,706.9" fill="none" stroke="#1e7fe8" stroke-width="1.6" stroke-linejoin="round"/>
<polyline points="184.9,687.7 201,687.7 203.4,692.9 206.7,698.1 210.5,701.4 215.2,704.2 219.9,706.1 226.5,707.1 231.3,707.6 250,707.9 270,707.7 286.3,707.8" fill="none" stroke="#ffa000" stroke-width="1.6" stroke-linejoin="round"/>
</g>
<rect x="184.9" y="675.4" width="101.4" height="45.2" fill="none" stroke="#8a8a8a" stroke-width="1.4"/>
<line x1="184.2" y1="675.4" x2="287" y2="675.4" stroke="#505050" stroke-width="1.6"/>
<line x1="184.9" y1="675.4" x2="184.9" y2="720.6" stroke="#a8a8a8" stroke-width="1.5"/>
<line x1="286.3" y1="675.4" x2="286.3" y2="720.6" stroke="#707070" stroke-width="1.5"/>
<line x1="176.4" y1="687.8" x2="184.9" y2="687.8" stroke="#555" stroke-width="1.6"/>
<line x1="176.4" y1="709.6" x2="184.9" y2="709.6" stroke="#555" stroke-width="1.6"/>
<line x1="201.2" y1="720.6" x2="201.2" y2="730" stroke="#7f7f7f" stroke-width="1.5"/>
<line x1="251.6" y1="720.6" x2="251.6" y2="730" stroke="#7f7f7f" stroke-width="1.5"/>
<text x="137.18" y="694.5" font-family='"Liberation Serif", "Noto Serif CJK SC", serif' font-size="18.3" fill="#1e1e1e" textLength="34.98" lengthAdjust="spacingAndGlyphs">5400</text>
<text x="137.18" y="715.8" font-family='"Liberation Serif", "Noto Serif CJK SC", serif' font-size="18.3" fill="#1e1e1e" textLength="34.98" lengthAdjust="spacingAndGlyphs">5300</text>
<text class="b" transform="translate(0,743.6)" y="0" text-anchor="middle" font-family='"Liberation Serif", "Noto Serif CJK SC", serif' font-size="17" fill="#1e1e1e" xml:space="preserve"><tspan x="191.6" textLength="7.44" lengthAdjust="spacingAndGlyphs">3</tspan><tspan x="197.9">.</tspan><tspan x="207.6" textLength="7.44" lengthAdjust="spacingAndGlyphs">0</tspan></text>
<text class="b" transform="translate(0,743.6)" y="0" text-anchor="middle" font-family='"Liberation Serif", "Noto Serif CJK SC", serif' font-size="17" fill="#1e1e1e" xml:space="preserve"><tspan x="242" textLength="7.44" lengthAdjust="spacingAndGlyphs">3</tspan><tspan x="248.3">.</tspan><tspan x="258" textLength="7.44" lengthAdjust="spacingAndGlyphs">2</tspan></text>
<rect x="333" y="670" width="151.5" height="74" fill="#fff" stroke="#fff" stroke-width="0"/>
<rect x="381.6" y="673.3" width="101.5" height="44.8" fill="#fff" stroke="#fff" stroke-width="0"/>
<clipPath id="cc2"><rect x="381.6" y="673.3" width="101.5" height="44.8"/></clipPath>
<line x1="387.2" y1="673.3" x2="387.2" y2="718.1" stroke="#6a6a6a" stroke-width="1.1" stroke-dasharray="1.4 3"/>
<line x1="425.3" y1="673.3" x2="425.3" y2="718.1" stroke="#6a6a6a" stroke-width="1.1" stroke-dasharray="1.4 3"/>
<line x1="463.7" y1="673.3" x2="463.7" y2="718.1" stroke="#6a6a6a" stroke-width="1.1" stroke-dasharray="1.4 3"/>
<line x1="381.6" y1="678.5" x2="483.1" y2="678.5" stroke="#6a6a6a" stroke-width="1.1" stroke-dasharray="1.4 3"/>
<line x1="381.6" y1="690.2" x2="483.1" y2="690.2" stroke="#6a6a6a" stroke-width="1.1" stroke-dasharray="1.4 3"/>
<line x1="381.6" y1="701.3" x2="483.1" y2="701.3" stroke="#6a6a6a" stroke-width="1.1" stroke-dasharray="1.4 3"/>
<line x1="381.6" y1="712.8" x2="483.1" y2="712.8" stroke="#6a6a6a" stroke-width="1.1" stroke-dasharray="1.4 3"/>
<g clip-path="url(#cc2)">
<polyline points="381.6,698.6 483.1,698.6" fill="none" stroke="#ffa000" stroke-width="1.6" stroke-linejoin="round"/>
<polyline points="381.6,699.2 395,699 413,693.2 425.3,695.5 444.5,698.2 463.7,697.4 483.1,698.2" fill="none" stroke="#1e7fe8" stroke-width="1.6" stroke-linejoin="round"/>
<polyline points="381.6,694.3 387.2,695.6 405.6,687 425.3,693.4 444.5,698.4 463.7,691.5 483.1,699.6" fill="none" stroke="#ff2030" stroke-width="1.6" stroke-linejoin="round"/>
<polyline points="381.6,712.2 387.2,712.2 387.2,675.6 405.6,675.6 405.6,711.6 425.3,711.6 425.3,709.4 444.5,709.4 444.5,678.8 463.7,678.8 463.7,717 483.1,717" fill="none" stroke="#22cc22" stroke-width="1.7" stroke-linejoin="round"/>
</g>
<rect x="381.6" y="673.3" width="101.5" height="44.8" fill="none" stroke="#8a8a8a" stroke-width="1.4"/>
<line x1="381" y1="673.3" x2="483.8" y2="673.3" stroke="#606060" stroke-width="1.5"/>
<line x1="483.1" y1="673.3" x2="483.1" y2="718.1" stroke="#707070" stroke-width="1.5"/>
<line x1="373.1" y1="678.2" x2="381.6" y2="678.2" stroke="#555" stroke-width="1.6"/>
<line x1="373.1" y1="690.2" x2="381.6" y2="690.2" stroke="#555" stroke-width="1.6"/>
<line x1="373.1" y1="701.4" x2="381.6" y2="701.4" stroke="#555" stroke-width="1.6"/>
<line x1="373.1" y1="712.8" x2="381.6" y2="712.8" stroke="#555" stroke-width="1.6"/>
<line x1="387.2" y1="718.1" x2="387.2" y2="726" stroke="#555" stroke-width="1.5"/>
<line x1="463.7" y1="718.1" x2="463.7" y2="726" stroke="#555" stroke-width="1.5"/>
<text x="336.08" y="696.2" font-family='"Liberation Serif", "Noto Serif CJK SC", serif' font-size="18.3" fill="#1e1e1e" textLength="34.98" lengthAdjust="spacingAndGlyphs">5320</text>
<text x="336.08" y="724.5" font-family='"Liberation Serif", "Noto Serif CJK SC", serif' font-size="18.3" fill="#1e1e1e" textLength="34.98" lengthAdjust="spacingAndGlyphs">5280</text>
<text class="b" transform="translate(0,741.4)" y="0" text-anchor="middle" font-family='"Liberation Serif", "Noto Serif CJK SC", serif' font-size="17" fill="#1e1e1e" xml:space="preserve"><tspan x="373.5" textLength="7.63" lengthAdjust="spacingAndGlyphs">3</tspan><tspan x="379.9">.</tspan><tspan x="389.9" textLength="7.63" lengthAdjust="spacingAndGlyphs">2</tspan><tspan x="398.1" textLength="7.63" lengthAdjust="spacingAndGlyphs">0</tspan></text>
<text class="b" transform="translate(0,741.4)" y="0" text-anchor="middle" font-family='"Liberation Serif", "Noto Serif CJK SC", serif' font-size="17" fill="#1e1e1e" xml:space="preserve"><tspan x="450.3" textLength="7.81" lengthAdjust="spacingAndGlyphs">3</tspan><tspan x="456.8">.</tspan><tspan x="467.1" textLength="7.81" lengthAdjust="spacingAndGlyphs">2</tspan><tspan x="475.5" textLength="7.81" lengthAdjust="spacingAndGlyphs">4</tspan></text>
<ellipse cx="211.1" cy="650.8" rx="27.5" ry="13.1" fill="none" stroke="#000" stroke-width="2"/>
<ellipse cx="259.6" cy="706.3" rx="26.6" ry="12.9" fill="none" stroke="#000" stroke-width="2"/>
<line x1="214" y1="663.2" x2="218" y2="668" stroke="#000" stroke-width="2"/>
<polygon points="213.1,672.1 221.5,663 225.8,676.5" fill="#000"/>
<line x1="286" y1="706" x2="312" y2="706" stroke="#000" stroke-width="2"/>
<polygon points="309,699 323,706 309,713" fill="#000"/>
<rect x="312.6" y="748.8" width="210" height="87.8" fill="#fff" stroke="#4a4a4a" stroke-width="1.6"/>
<line x1="317.4" y1="763.2" x2="338.6" y2="763.2" stroke="#22cc22" stroke-width="1.8"/>
<line x1="317.4" y1="782.6" x2="338.6" y2="782.6" stroke="#ff5060" stroke-width="1.8"/>
<line x1="317.4" y1="802.3" x2="338.6" y2="802.3" stroke="#1e88ee" stroke-width="1.8"/>
<line x1="317.4" y1="821.7" x2="338.6" y2="821.7" stroke="#ffa020" stroke-width="1.8"/>
<text class="b" transform="translate(0,767.7)" y="0" text-anchor="middle" font-family='"Liberation Serif", "Noto Serif CJK SC", serif' font-size="17" fill="#1e1e1e" xml:space="preserve"><tspan x="351.65" textLength="7.91" lengthAdjust="spacingAndGlyphs">C</tspan><tspan x="360.15">a</tspan><tspan x="368.65">l</tspan><tspan x="377.15" textLength="7.91" lengthAdjust="spacingAndGlyphs">u</tspan><tspan x="385.65">l</tspan><tspan x="394.15">a</tspan><tspan x="402.65">t</tspan><tspan x="411.15">e</tspan><tspan x="419.65" textLength="7.91" lengthAdjust="spacingAndGlyphs">d</tspan><tspan x="428.15" textLength="7.91" lengthAdjust="spacingAndGlyphs">_</tspan><tspan x="436.65" textLength="7.91" lengthAdjust="spacingAndGlyphs">S</tspan><tspan x="445.15" textLength="7.91" lengthAdjust="spacingAndGlyphs">p</tspan><tspan x="453.65">e</tspan><tspan x="462.15">e</tspan><tspan x="470.65" textLength="7.91" lengthAdjust="spacingAndGlyphs">d</tspan></text>
<text class="b" transform="translate(0,787.5)" y="0" text-anchor="middle" font-family='"Liberation Serif", "Noto Serif CJK SC", serif' font-size="17" fill="#1e1e1e" xml:space="preserve"><tspan x="351.65" textLength="7.91" lengthAdjust="spacingAndGlyphs">E</tspan><tspan x="360.15" textLength="7.91" lengthAdjust="spacingAndGlyphs">S</tspan><tspan x="368.65" textLength="7.91" lengthAdjust="spacingAndGlyphs">O</tspan><tspan x="377.15" textLength="7.91" lengthAdjust="spacingAndGlyphs">_</tspan><tspan x="385.65" textLength="7.91" lengthAdjust="spacingAndGlyphs">O</tspan><tspan x="394.15" textLength="7.91" lengthAdjust="spacingAndGlyphs">b</tspan><tspan x="402.65">s</tspan><tspan x="411.15">e</tspan><tspan x="419.65">r</tspan><tspan x="428.15" textLength="7.91" lengthAdjust="spacingAndGlyphs">v</tspan><tspan x="436.65">e</tspan><tspan x="445.15" textLength="7.91" lengthAdjust="spacingAndGlyphs">d</tspan><tspan x="453.65" textLength="7.91" lengthAdjust="spacingAndGlyphs">_</tspan><tspan x="462.15" textLength="7.91" lengthAdjust="spacingAndGlyphs">S</tspan><tspan x="470.65" textLength="7.91" lengthAdjust="spacingAndGlyphs">p</tspan><tspan x="479.15">e</tspan><tspan x="487.65">e</tspan><tspan x="496.15" textLength="7.91" lengthAdjust="spacingAndGlyphs">d</tspan></text>
<text class="b" transform="translate(0,806.8)" y="0" text-anchor="middle" font-family='"Liberation Serif", "Noto Serif CJK SC", serif' font-size="17" fill="#1e1e1e" xml:space="preserve"><tspan x="351.65" textLength="7.91" lengthAdjust="spacingAndGlyphs">A</tspan><tspan x="360.15" textLength="7.91" lengthAdjust="spacingAndGlyphs">D</tspan><tspan x="368.65" textLength="7.91" lengthAdjust="spacingAndGlyphs">E</tspan><tspan x="377.15" textLength="7.91" lengthAdjust="spacingAndGlyphs">S</tspan><tspan x="385.65" textLength="7.91" lengthAdjust="spacingAndGlyphs">O</tspan><tspan x="394.15" textLength="7.91" lengthAdjust="spacingAndGlyphs">_</tspan><tspan x="402.65" textLength="7.91" lengthAdjust="spacingAndGlyphs">O</tspan><tspan x="411.15" textLength="7.91" lengthAdjust="spacingAndGlyphs">b</tspan><tspan x="419.65">s</tspan><tspan x="428.15">e</tspan><tspan x="436.65">r</tspan><tspan x="445.15" textLength="7.91" lengthAdjust="spacingAndGlyphs">v</tspan><tspan x="453.65">e</tspan><tspan x="462.15" textLength="7.91" lengthAdjust="spacingAndGlyphs">d</tspan><tspan x="470.65" textLength="7.91" lengthAdjust="spacingAndGlyphs">_</tspan><tspan x="479.15" textLength="7.91" lengthAdjust="spacingAndGlyphs">S</tspan><tspan x="487.65" textLength="7.91" lengthAdjust="spacingAndGlyphs">p</tspan><tspan x="496.15">e</tspan><tspan x="504.65">e</tspan><tspan x="513.15" textLength="7.91" lengthAdjust="spacingAndGlyphs">d</tspan></text>
<text class="b" transform="translate(0,826)" y="0" text-anchor="middle" font-family='"Liberation Serif", "Noto Serif CJK SC", serif' font-size="17" fill="#1e1e1e" xml:space="preserve"><tspan x="351.65" textLength="7.91" lengthAdjust="spacingAndGlyphs">M</tspan><tspan x="360.15">e</tspan><tspan x="368.65">c</tspan><tspan x="377.15" textLength="7.91" lengthAdjust="spacingAndGlyphs">h</tspan><tspan x="385.65">a</tspan><tspan x="394.15" textLength="7.91" lengthAdjust="spacingAndGlyphs">n</tspan><tspan x="402.65">i</tspan><tspan x="411.15">c</tspan><tspan x="419.65">a</tspan><tspan x="428.15">l</tspan><tspan x="436.65" textLength="7.91" lengthAdjust="spacingAndGlyphs">_</tspan><tspan x="445.15" textLength="7.91" lengthAdjust="spacingAndGlyphs">S</tspan><tspan x="453.65" textLength="7.91" lengthAdjust="spacingAndGlyphs">p</tspan><tspan x="462.15">e</tspan><tspan x="470.65">e</tspan><tspan x="479.15" textLength="7.91" lengthAdjust="spacingAndGlyphs">d</tspan></text>
<text x="27.86" y="634.3" font-family='"Liberation Serif", "Noto Serif CJK SC", serif' font-size="18.3" fill="#1e1e1e" textLength="34.5" lengthAdjust="spacingAndGlyphs">6000</text>
<text x="28.27" y="699.7" font-family='"Liberation Serif", "Noto Serif CJK SC", serif' font-size="18.3" fill="#1e1e1e" textLength="34.08" lengthAdjust="spacingAndGlyphs">4000</text>
<text x="27.84" y="765.7" font-family='"Liberation Serif", "Noto Serif CJK SC", serif' font-size="18.3" fill="#1e1e1e" textLength="34.52" lengthAdjust="spacingAndGlyphs">2000</text>
<text x="53.3" y="830.7" font-family='"Liberation Serif", "Noto Serif CJK SC", serif' font-size="18.3" fill="#1e1e1e" textLength="9.2" lengthAdjust="spacingAndGlyphs">0</text>
<text x="70.7" y="864.5" font-family='"Liberation Serif", "Noto Serif CJK SC", serif' font-size="18.3" fill="#1e1e1e" textLength="9.2" lengthAdjust="spacingAndGlyphs">0</text>
<text class="b" transform="translate(0,864.5)" y="0" text-anchor="middle" font-family='"Liberation Serif", "Noto Serif CJK SC", serif' font-size="17" fill="#1e1e1e" xml:space="preserve"><tspan x="301.1" textLength="7.44" lengthAdjust="spacingAndGlyphs">5</tspan></text>
<text x="518.56" y="864.5" font-family='"Liberation Serif", "Noto Serif CJK SC", serif' font-size="18.3" fill="#1e1e1e" textLength="17.51" lengthAdjust="spacingAndGlyphs">10</text>
<text transform="translate(0,884.4)" y="0" text-anchor="middle" font-family='"Liberation Serif", "Noto Serif CJK SC", serif' font-size="18.6" fill="#1e1e1e" xml:space="preserve"><tspan x="275.6" y="0" textLength="8.3" lengthAdjust="spacingAndGlyphs">T</tspan><tspan x="283.6" y="0">i</tspan><tspan x="291.6" y="0" textLength="8.3" lengthAdjust="spacingAndGlyphs">m</tspan><tspan x="299.6" y="0">e</tspan><tspan x="307.6" y="-1.6" font-size="16">(</tspan><tspan x="315.6" y="0">s</tspan><tspan x="323.6" y="-1.6" font-size="16">)</tspan></text>
<text x="268.1" y="907.6" font-family='"Liberation Serif", "Noto Serif CJK SC", serif' font-size="21.5" fill="#1e1e1e" textLength="24.1" lengthAdjust="spacingAndGlyphs">(<tspan font-weight="bold">c</tspan>)</text>
<text transform="translate(21.3,777.3) rotate(-90)" y="0" text-anchor="middle" font-family='"Liberation Serif", "Noto Serif CJK SC", serif' font-size="19.2" fill="#1e1e1e"><tspan x="20" textLength="40" lengthAdjust="spacingAndGlyphs">Speed</tspan><tspan x="45.9">(</tspan><tspan x="53.7">r</tspan><tspan x="61.5" textLength="7.25" lengthAdjust="spacingAndGlyphs">p</tspan><tspan x="69.3" textLength="7.25" lengthAdjust="spacingAndGlyphs">m</tspan><tspan x="77.1">)</tspan></text>
</svg>
</body></html>
